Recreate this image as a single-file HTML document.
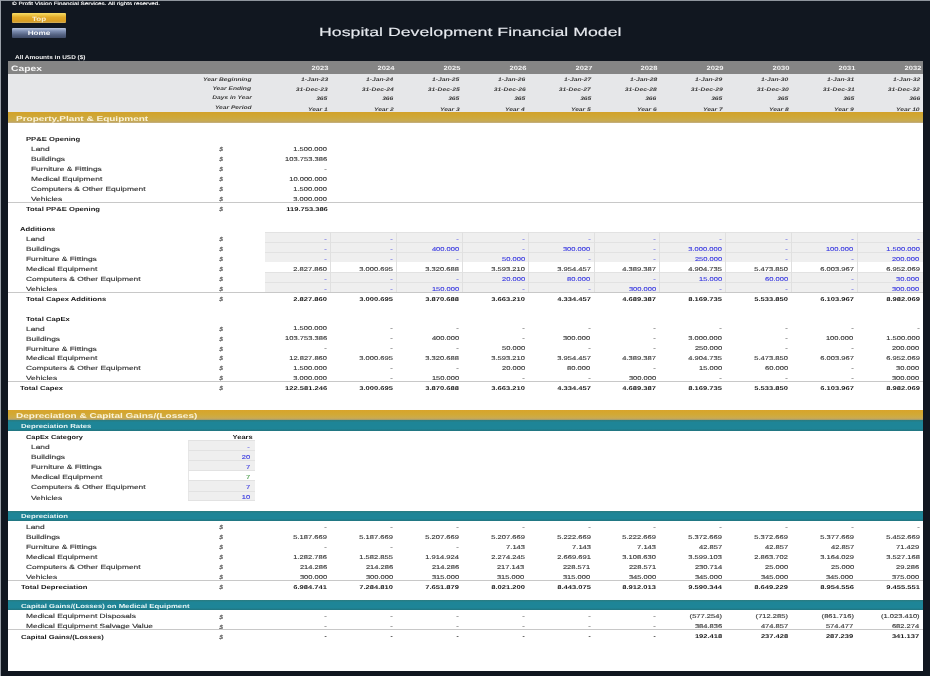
<!DOCTYPE html>
<html><head><meta charset="utf-8"><title>Hospital Development Financial Model</title>
<style>
html,body{margin:0;padding:0;}
body{width:930px;height:676px;overflow:hidden;position:relative;background:#111720;font-family:"Liberation Sans", sans-serif;text-rendering:geometricPrecision;}
div{position:absolute;}
.t{white-space:nowrap;will-change:transform;}
.t span{white-space:nowrap;}
</style></head><body>
<div style="position:absolute;left:0.00px;top:0.00px;width:930.00px;height:1.00px;background:#8f959d"></div>
<div style="position:absolute;left:0.00px;top:0.00px;width:1.20px;height:676.00px;background:#9aa0a8"></div>
<div class="t" style="left:11.50px;top:1px;height:5.17px;line-height:5.17px;font-size:4.5px;-webkit-text-stroke:0.12px currentColor;color:#ffffff;transform:scaleX(1.4000);transform-origin:left">© Profit Vision Financial Services. All rights reserved.</div>
<div style="position:absolute;left:11.60px;top:12.80px;width:54.20px;height:10.00px;background:linear-gradient(#f6dc68 0%,#ecc444 22%,#e2aa2a 42%,#d99e22 80%,#cf9f3c 92%,#dcc070 100%);border-radius:1px"></div>
<div class="t" style="left:39.00px;top:16px;height:7.24px;line-height:7.24px;font-size:6.3px;font-weight:bold;color:#f8ecc8;width:0"><span style="position:absolute;left:0;transform:translateX(-50%) scaleX(1.2800);transform-origin:center">Top</span></div>
<div style="position:absolute;left:11.60px;top:28.00px;width:54.20px;height:9.90px;background:linear-gradient(#b9c6e0 0%,#7f8fb2 30%,#52607f 70%,#3e4a66 100%);border-radius:1px"></div>
<div class="t" style="left:38.70px;top:30px;height:7.24px;line-height:7.24px;font-size:6.3px;font-weight:bold;color:#f2f4f8;width:0"><span style="position:absolute;left:0;transform:translateX(-50%) scaleX(1.3000);transform-origin:center">Home</span></div>
<div class="t" style="left:318.80px;top:26px;height:13.80px;line-height:13.80px;font-size:12.0px;-webkit-text-stroke:0.12px currentColor;color:#e6e9ee;transform:scaleX(1.4770);transform-origin:left">Hospital Development Financial Model</div>
<div class="t" style="left:15.30px;top:55px;height:6.32px;line-height:6.32px;font-size:5.5px;font-weight:bold;color:#f0f0f0;transform:scaleX(1.1750);transform-origin:left">All Amounts in  USD ($)</div>
<div style="position:absolute;left:8.10px;top:61.20px;width:915.40px;height:609.40px;background:#ffffff"></div>
<div style="position:absolute;left:8.10px;top:61.20px;width:915.40px;height:12.60px;background:#858585"></div>
<div class="t" style="left:10.80px;top:65px;height:8.97px;line-height:8.97px;font-size:7.8px;font-weight:bold;color:#f4f4f4;transform:scaleX(1.3200);transform-origin:left">Capex</div>
<div class="t" style="right:601.20px;top:66px;height:6.90px;line-height:6.90px;font-size:6.0px;font-weight:bold;color:#f0f0f0;transform:scaleX(1.2600);transform-origin:right">2023</div>
<div class="t" style="right:535.40px;top:66px;height:6.90px;line-height:6.90px;font-size:6.0px;font-weight:bold;color:#f0f0f0;transform:scaleX(1.2600);transform-origin:right">2024</div>
<div class="t" style="right:469.60px;top:66px;height:6.90px;line-height:6.90px;font-size:6.0px;font-weight:bold;color:#f0f0f0;transform:scaleX(1.2600);transform-origin:right">2025</div>
<div class="t" style="right:403.80px;top:66px;height:6.90px;line-height:6.90px;font-size:6.0px;font-weight:bold;color:#f0f0f0;transform:scaleX(1.2600);transform-origin:right">2026</div>
<div class="t" style="right:338.00px;top:66px;height:6.90px;line-height:6.90px;font-size:6.0px;font-weight:bold;color:#f0f0f0;transform:scaleX(1.2600);transform-origin:right">2027</div>
<div class="t" style="right:272.20px;top:66px;height:6.90px;line-height:6.90px;font-size:6.0px;font-weight:bold;color:#f0f0f0;transform:scaleX(1.2600);transform-origin:right">2028</div>
<div class="t" style="right:206.40px;top:66px;height:6.90px;line-height:6.90px;font-size:6.0px;font-weight:bold;color:#f0f0f0;transform:scaleX(1.2600);transform-origin:right">2029</div>
<div class="t" style="right:140.60px;top:66px;height:6.90px;line-height:6.90px;font-size:6.0px;font-weight:bold;color:#f0f0f0;transform:scaleX(1.2600);transform-origin:right">2030</div>
<div class="t" style="right:74.80px;top:66px;height:6.90px;line-height:6.90px;font-size:6.0px;font-weight:bold;color:#f0f0f0;transform:scaleX(1.2600);transform-origin:right">2031</div>
<div class="t" style="right:9.00px;top:66px;height:6.90px;line-height:6.90px;font-size:6.0px;font-weight:bold;color:#f0f0f0;transform:scaleX(1.2600);transform-origin:right">2032</div>
<div style="position:absolute;left:8.10px;top:73.80px;width:915.40px;height:38.00px;background:#e6e7e9"></div>
<div class="t" style="right:678.70px;top:78px;height:5.75px;line-height:5.75px;font-size:5.0px;font-weight:bold;font-style:italic;color:#3a3a3a;transform:scaleX(1.3300);transform-origin:right">Year Beginning</div>
<div class="t" style="right:678.70px;top:87px;height:5.75px;line-height:5.75px;font-size:5.0px;font-weight:bold;font-style:italic;color:#3a3a3a;transform:scaleX(1.3300);transform-origin:right">Year Ending</div>
<div class="t" style="right:678.70px;top:96px;height:5.75px;line-height:5.75px;font-size:5.0px;font-weight:bold;font-style:italic;color:#3a3a3a;transform:scaleX(1.3300);transform-origin:right">Days in Year</div>
<div class="t" style="right:678.70px;top:106px;height:5.75px;line-height:5.75px;font-size:5.0px;font-weight:bold;font-style:italic;color:#3a3a3a;transform:scaleX(1.3300);transform-origin:right">Year Period</div>
<div class="t" style="right:602.20px;top:78px;height:5.75px;line-height:5.75px;font-size:5.0px;font-weight:bold;font-style:italic;color:#3a3a3a;transform:scaleX(1.3440);transform-origin:right">1-Jan-23</div>
<div class="t" style="right:602.20px;top:88px;height:5.75px;line-height:5.75px;font-size:5.0px;font-weight:bold;font-style:italic;color:#3a3a3a;transform:scaleX(1.3440);transform-origin:right">31-Dec-23</div>
<div class="t" style="right:602.20px;top:97px;height:5.75px;line-height:5.75px;font-size:5.0px;font-weight:bold;font-style:italic;color:#3a3a3a;transform:scaleX(1.3440);transform-origin:right">365</div>
<div class="t" style="right:602.20px;top:108px;height:5.75px;line-height:5.75px;font-size:5.0px;font-weight:bold;font-style:italic;color:#3a3a3a;transform:scaleX(1.3440);transform-origin:right">Year 1</div>
<div class="t" style="right:536.40px;top:78px;height:5.75px;line-height:5.75px;font-size:5.0px;font-weight:bold;font-style:italic;color:#3a3a3a;transform:scaleX(1.3440);transform-origin:right">1-Jan-24</div>
<div class="t" style="right:536.40px;top:88px;height:5.75px;line-height:5.75px;font-size:5.0px;font-weight:bold;font-style:italic;color:#3a3a3a;transform:scaleX(1.3440);transform-origin:right">31-Dec-24</div>
<div class="t" style="right:536.40px;top:97px;height:5.75px;line-height:5.75px;font-size:5.0px;font-weight:bold;font-style:italic;color:#3a3a3a;transform:scaleX(1.3440);transform-origin:right">366</div>
<div class="t" style="right:536.40px;top:108px;height:5.75px;line-height:5.75px;font-size:5.0px;font-weight:bold;font-style:italic;color:#3a3a3a;transform:scaleX(1.3440);transform-origin:right">Year 2</div>
<div class="t" style="right:470.60px;top:78px;height:5.75px;line-height:5.75px;font-size:5.0px;font-weight:bold;font-style:italic;color:#3a3a3a;transform:scaleX(1.3440);transform-origin:right">1-Jan-25</div>
<div class="t" style="right:470.60px;top:88px;height:5.75px;line-height:5.75px;font-size:5.0px;font-weight:bold;font-style:italic;color:#3a3a3a;transform:scaleX(1.3440);transform-origin:right">31-Dec-25</div>
<div class="t" style="right:470.60px;top:97px;height:5.75px;line-height:5.75px;font-size:5.0px;font-weight:bold;font-style:italic;color:#3a3a3a;transform:scaleX(1.3440);transform-origin:right">365</div>
<div class="t" style="right:470.60px;top:108px;height:5.75px;line-height:5.75px;font-size:5.0px;font-weight:bold;font-style:italic;color:#3a3a3a;transform:scaleX(1.3440);transform-origin:right">Year 3</div>
<div class="t" style="right:404.80px;top:78px;height:5.75px;line-height:5.75px;font-size:5.0px;font-weight:bold;font-style:italic;color:#3a3a3a;transform:scaleX(1.3440);transform-origin:right">1-Jan-26</div>
<div class="t" style="right:404.80px;top:88px;height:5.75px;line-height:5.75px;font-size:5.0px;font-weight:bold;font-style:italic;color:#3a3a3a;transform:scaleX(1.3440);transform-origin:right">31-Dec-26</div>
<div class="t" style="right:404.80px;top:97px;height:5.75px;line-height:5.75px;font-size:5.0px;font-weight:bold;font-style:italic;color:#3a3a3a;transform:scaleX(1.3440);transform-origin:right">365</div>
<div class="t" style="right:404.80px;top:108px;height:5.75px;line-height:5.75px;font-size:5.0px;font-weight:bold;font-style:italic;color:#3a3a3a;transform:scaleX(1.3440);transform-origin:right">Year 4</div>
<div class="t" style="right:339.00px;top:78px;height:5.75px;line-height:5.75px;font-size:5.0px;font-weight:bold;font-style:italic;color:#3a3a3a;transform:scaleX(1.3440);transform-origin:right">1-Jan-27</div>
<div class="t" style="right:339.00px;top:88px;height:5.75px;line-height:5.75px;font-size:5.0px;font-weight:bold;font-style:italic;color:#3a3a3a;transform:scaleX(1.3440);transform-origin:right">31-Dec-27</div>
<div class="t" style="right:339.00px;top:97px;height:5.75px;line-height:5.75px;font-size:5.0px;font-weight:bold;font-style:italic;color:#3a3a3a;transform:scaleX(1.3440);transform-origin:right">365</div>
<div class="t" style="right:339.00px;top:108px;height:5.75px;line-height:5.75px;font-size:5.0px;font-weight:bold;font-style:italic;color:#3a3a3a;transform:scaleX(1.3440);transform-origin:right">Year 5</div>
<div class="t" style="right:273.20px;top:78px;height:5.75px;line-height:5.75px;font-size:5.0px;font-weight:bold;font-style:italic;color:#3a3a3a;transform:scaleX(1.3440);transform-origin:right">1-Jan-28</div>
<div class="t" style="right:273.20px;top:88px;height:5.75px;line-height:5.75px;font-size:5.0px;font-weight:bold;font-style:italic;color:#3a3a3a;transform:scaleX(1.3440);transform-origin:right">31-Dec-28</div>
<div class="t" style="right:273.20px;top:97px;height:5.75px;line-height:5.75px;font-size:5.0px;font-weight:bold;font-style:italic;color:#3a3a3a;transform:scaleX(1.3440);transform-origin:right">366</div>
<div class="t" style="right:273.20px;top:108px;height:5.75px;line-height:5.75px;font-size:5.0px;font-weight:bold;font-style:italic;color:#3a3a3a;transform:scaleX(1.3440);transform-origin:right">Year 6</div>
<div class="t" style="right:207.40px;top:78px;height:5.75px;line-height:5.75px;font-size:5.0px;font-weight:bold;font-style:italic;color:#3a3a3a;transform:scaleX(1.3440);transform-origin:right">1-Jan-29</div>
<div class="t" style="right:207.40px;top:88px;height:5.75px;line-height:5.75px;font-size:5.0px;font-weight:bold;font-style:italic;color:#3a3a3a;transform:scaleX(1.3440);transform-origin:right">31-Dec-29</div>
<div class="t" style="right:207.40px;top:97px;height:5.75px;line-height:5.75px;font-size:5.0px;font-weight:bold;font-style:italic;color:#3a3a3a;transform:scaleX(1.3440);transform-origin:right">365</div>
<div class="t" style="right:207.40px;top:108px;height:5.75px;line-height:5.75px;font-size:5.0px;font-weight:bold;font-style:italic;color:#3a3a3a;transform:scaleX(1.3440);transform-origin:right">Year 7</div>
<div class="t" style="right:141.60px;top:78px;height:5.75px;line-height:5.75px;font-size:5.0px;font-weight:bold;font-style:italic;color:#3a3a3a;transform:scaleX(1.3440);transform-origin:right">1-Jan-30</div>
<div class="t" style="right:141.60px;top:88px;height:5.75px;line-height:5.75px;font-size:5.0px;font-weight:bold;font-style:italic;color:#3a3a3a;transform:scaleX(1.3440);transform-origin:right">31-Dec-30</div>
<div class="t" style="right:141.60px;top:97px;height:5.75px;line-height:5.75px;font-size:5.0px;font-weight:bold;font-style:italic;color:#3a3a3a;transform:scaleX(1.3440);transform-origin:right">365</div>
<div class="t" style="right:141.60px;top:108px;height:5.75px;line-height:5.75px;font-size:5.0px;font-weight:bold;font-style:italic;color:#3a3a3a;transform:scaleX(1.3440);transform-origin:right">Year 8</div>
<div class="t" style="right:75.80px;top:78px;height:5.75px;line-height:5.75px;font-size:5.0px;font-weight:bold;font-style:italic;color:#3a3a3a;transform:scaleX(1.3440);transform-origin:right">1-Jan-31</div>
<div class="t" style="right:75.80px;top:88px;height:5.75px;line-height:5.75px;font-size:5.0px;font-weight:bold;font-style:italic;color:#3a3a3a;transform:scaleX(1.3440);transform-origin:right">31-Dec-31</div>
<div class="t" style="right:75.80px;top:97px;height:5.75px;line-height:5.75px;font-size:5.0px;font-weight:bold;font-style:italic;color:#3a3a3a;transform:scaleX(1.3440);transform-origin:right">365</div>
<div class="t" style="right:75.80px;top:108px;height:5.75px;line-height:5.75px;font-size:5.0px;font-weight:bold;font-style:italic;color:#3a3a3a;transform:scaleX(1.3440);transform-origin:right">Year 9</div>
<div class="t" style="right:10.00px;top:78px;height:5.75px;line-height:5.75px;font-size:5.0px;font-weight:bold;font-style:italic;color:#3a3a3a;transform:scaleX(1.3440);transform-origin:right">1-Jan-32</div>
<div class="t" style="right:10.00px;top:88px;height:5.75px;line-height:5.75px;font-size:5.0px;font-weight:bold;font-style:italic;color:#3a3a3a;transform:scaleX(1.3440);transform-origin:right">31-Dec-32</div>
<div class="t" style="right:10.00px;top:97px;height:5.75px;line-height:5.75px;font-size:5.0px;font-weight:bold;font-style:italic;color:#3a3a3a;transform:scaleX(1.3440);transform-origin:right">366</div>
<div class="t" style="right:10.00px;top:108px;height:5.75px;line-height:5.75px;font-size:5.0px;font-weight:bold;font-style:italic;color:#3a3a3a;transform:scaleX(1.3440);transform-origin:right">Year 10</div>
<div style="position:absolute;left:8.10px;top:111.80px;width:915.40px;height:10.90px;background:linear-gradient(#d3a22a 0%,#cea838 45%,#c9ab50 80%,#bca266 94%,#e0d6b0 100%)"></div>
<div class="t" style="left:16.00px;top:116px;height:8.05px;line-height:8.05px;font-size:7.0px;font-weight:bold;color:#fbf2d6;transform:scaleX(1.4300);transform-origin:left">Property,Plant &amp; Equipment</div>
<div class="t" style="left:25.80px;top:137px;height:6.79px;line-height:6.79px;font-size:5.9px;font-weight:bold;color:#1a1a1a;transform:scaleX(1.3030);transform-origin:left">PP&amp;E Opening</div>
<div class="t" style="left:31.00px;top:147px;height:6.90px;line-height:6.90px;font-size:6.0px;-webkit-text-stroke:0.12px currentColor;color:#303030;transform:scaleX(1.3960);transform-origin:left">Land</div>
<div class="t" style="left:220.50px;top:147px;height:6.44px;line-height:6.44px;font-size:5.6px;-webkit-text-stroke:0.12px currentColor;font-style:italic;color:#505050;width:0"><span style="position:absolute;left:0;transform:translateX(-50%) scaleX(1.2000);transform-origin:center">$</span></div>
<div class="t" style="right:602.70px;top:147px;height:6.44px;line-height:6.44px;font-size:5.6px;-webkit-text-stroke:0.12px currentColor;color:#383838;transform:scaleX(1.3500);transform-origin:right">1.500.000</div>
<div class="t" style="left:31.00px;top:157px;height:6.90px;line-height:6.90px;font-size:6.0px;-webkit-text-stroke:0.12px currentColor;color:#303030;transform:scaleX(1.3960);transform-origin:left">Buildings</div>
<div class="t" style="left:220.50px;top:157px;height:6.44px;line-height:6.44px;font-size:5.6px;-webkit-text-stroke:0.12px currentColor;font-style:italic;color:#505050;width:0"><span style="position:absolute;left:0;transform:translateX(-50%) scaleX(1.2000);transform-origin:center">$</span></div>
<div class="t" style="right:602.70px;top:157px;height:6.44px;line-height:6.44px;font-size:5.6px;-webkit-text-stroke:0.12px currentColor;color:#383838;transform:scaleX(1.3500);transform-origin:right">103.753.386</div>
<div class="t" style="left:31.00px;top:167px;height:6.90px;line-height:6.90px;font-size:6.0px;-webkit-text-stroke:0.12px currentColor;color:#303030;transform:scaleX(1.3960);transform-origin:left">Furniture &amp; Fittings</div>
<div class="t" style="left:220.50px;top:167px;height:6.44px;line-height:6.44px;font-size:5.6px;-webkit-text-stroke:0.12px currentColor;font-style:italic;color:#505050;width:0"><span style="position:absolute;left:0;transform:translateX(-50%) scaleX(1.2000);transform-origin:center">$</span></div>
<div class="t" style="right:602.70px;top:167px;height:6.44px;line-height:6.44px;font-size:5.6px;-webkit-text-stroke:0.12px currentColor;color:#383838;transform:scaleX(1.3500);transform-origin:right">-</div>
<div class="t" style="left:31.00px;top:177px;height:6.90px;line-height:6.90px;font-size:6.0px;-webkit-text-stroke:0.12px currentColor;color:#303030;transform:scaleX(1.3960);transform-origin:left">Medical Equipment</div>
<div class="t" style="left:220.50px;top:177px;height:6.44px;line-height:6.44px;font-size:5.6px;-webkit-text-stroke:0.12px currentColor;font-style:italic;color:#505050;width:0"><span style="position:absolute;left:0;transform:translateX(-50%) scaleX(1.2000);transform-origin:center">$</span></div>
<div class="t" style="right:602.70px;top:177px;height:6.44px;line-height:6.44px;font-size:5.6px;-webkit-text-stroke:0.12px currentColor;color:#383838;transform:scaleX(1.3500);transform-origin:right">10.000.000</div>
<div class="t" style="left:31.00px;top:187px;height:6.90px;line-height:6.90px;font-size:6.0px;-webkit-text-stroke:0.12px currentColor;color:#303030;transform:scaleX(1.3960);transform-origin:left">Computers &amp; Other Equipment</div>
<div class="t" style="left:220.50px;top:187px;height:6.44px;line-height:6.44px;font-size:5.6px;-webkit-text-stroke:0.12px currentColor;font-style:italic;color:#505050;width:0"><span style="position:absolute;left:0;transform:translateX(-50%) scaleX(1.2000);transform-origin:center">$</span></div>
<div class="t" style="right:602.70px;top:187px;height:6.44px;line-height:6.44px;font-size:5.6px;-webkit-text-stroke:0.12px currentColor;color:#383838;transform:scaleX(1.3500);transform-origin:right">1.500.000</div>
<div class="t" style="left:31.00px;top:197px;height:6.90px;line-height:6.90px;font-size:6.0px;-webkit-text-stroke:0.12px currentColor;color:#303030;transform:scaleX(1.3960);transform-origin:left">Vehicles</div>
<div class="t" style="left:220.50px;top:197px;height:6.44px;line-height:6.44px;font-size:5.6px;-webkit-text-stroke:0.12px currentColor;font-style:italic;color:#505050;width:0"><span style="position:absolute;left:0;transform:translateX(-50%) scaleX(1.2000);transform-origin:center">$</span></div>
<div class="t" style="right:602.70px;top:197px;height:6.44px;line-height:6.44px;font-size:5.6px;-webkit-text-stroke:0.12px currentColor;color:#383838;transform:scaleX(1.3500);transform-origin:right">3.000.000</div>
<div style="position:absolute;left:8.10px;top:202.00px;width:915.40px;height:1.00px;background:#c8c8c8"></div>
<div class="t" style="left:25.80px;top:207px;height:6.79px;line-height:6.79px;font-size:5.9px;font-weight:bold;color:#1a1a1a;transform:scaleX(1.3030);transform-origin:left">Total PP&amp;E Opening</div>
<div class="t" style="left:220.50px;top:207px;height:6.44px;line-height:6.44px;font-size:5.6px;-webkit-text-stroke:0.12px currentColor;font-style:italic;color:#505050;width:0"><span style="position:absolute;left:0;transform:translateX(-50%) scaleX(1.2000);transform-origin:center">$</span></div>
<div class="t" style="right:602.70px;top:207px;height:6.44px;line-height:6.44px;font-size:5.6px;font-weight:bold;color:#1a1a1a;transform:scaleX(1.3500);transform-origin:right">119.753.386</div>
<div style="position:absolute;left:265.00px;top:232.38px;width:658.00px;height:9.96px;background:#efefef;box-sizing:border-box;border-top:1px solid #e2e2e2"></div>
<div style="position:absolute;left:265.00px;top:242.34px;width:658.00px;height:9.96px;background:#efefef;box-sizing:border-box;border-top:1px solid #e2e2e2"></div>
<div style="position:absolute;left:265.00px;top:252.30px;width:658.00px;height:9.96px;background:#efefef;box-sizing:border-box;border-top:1px solid #e2e2e2"></div>
<div style="position:absolute;left:265.00px;top:272.22px;width:658.00px;height:9.96px;background:#efefef;box-sizing:border-box;border-top:1px solid #e2e2e2"></div>
<div style="position:absolute;left:265.00px;top:282.18px;width:658.00px;height:9.96px;background:#efefef;box-sizing:border-box;border-top:1px solid #e2e2e2"></div>
<div style="position:absolute;left:265.00px;top:291.64px;width:658.00px;height:1.00px;background:#e2e2e2"></div>
<div style="position:absolute;left:330.30px;top:232.38px;width:1.00px;height:59.76px;background:#e0e0e0"></div>
<div style="position:absolute;left:396.10px;top:232.38px;width:1.00px;height:59.76px;background:#e0e0e0"></div>
<div style="position:absolute;left:461.90px;top:232.38px;width:1.00px;height:59.76px;background:#e0e0e0"></div>
<div style="position:absolute;left:527.70px;top:232.38px;width:1.00px;height:59.76px;background:#e0e0e0"></div>
<div style="position:absolute;left:593.50px;top:232.38px;width:1.00px;height:59.76px;background:#e0e0e0"></div>
<div style="position:absolute;left:659.30px;top:232.38px;width:1.00px;height:59.76px;background:#e0e0e0"></div>
<div style="position:absolute;left:725.10px;top:232.38px;width:1.00px;height:59.76px;background:#e0e0e0"></div>
<div style="position:absolute;left:790.90px;top:232.38px;width:1.00px;height:59.76px;background:#e0e0e0"></div>
<div style="position:absolute;left:856.70px;top:232.38px;width:1.00px;height:59.76px;background:#e0e0e0"></div>
<div class="t" style="left:20.30px;top:227px;height:6.79px;line-height:6.79px;font-size:5.9px;font-weight:bold;color:#1a1a1a;transform:scaleX(1.3030);transform-origin:left">Additions</div>
<div class="t" style="left:25.80px;top:237px;height:6.90px;line-height:6.90px;font-size:6.0px;-webkit-text-stroke:0.12px currentColor;color:#303030;transform:scaleX(1.3960);transform-origin:left">Land</div>
<div class="t" style="left:220.50px;top:237px;height:6.44px;line-height:6.44px;font-size:5.6px;-webkit-text-stroke:0.12px currentColor;font-style:italic;color:#505050;width:0"><span style="position:absolute;left:0;transform:translateX(-50%) scaleX(1.2000);transform-origin:center">$</span></div>
<div class="t" style="right:602.70px;top:237px;height:6.44px;line-height:6.44px;font-size:5.6px;-webkit-text-stroke:0.12px currentColor;color:#3c3ce0;transform:scaleX(1.3500);transform-origin:right">-</div>
<div class="t" style="right:536.90px;top:237px;height:6.44px;line-height:6.44px;font-size:5.6px;-webkit-text-stroke:0.12px currentColor;color:#3c3ce0;transform:scaleX(1.3500);transform-origin:right">-</div>
<div class="t" style="right:471.10px;top:237px;height:6.44px;line-height:6.44px;font-size:5.6px;-webkit-text-stroke:0.12px currentColor;color:#3c3ce0;transform:scaleX(1.3500);transform-origin:right">-</div>
<div class="t" style="right:405.30px;top:237px;height:6.44px;line-height:6.44px;font-size:5.6px;-webkit-text-stroke:0.12px currentColor;color:#3c3ce0;transform:scaleX(1.3500);transform-origin:right">-</div>
<div class="t" style="right:339.50px;top:237px;height:6.44px;line-height:6.44px;font-size:5.6px;-webkit-text-stroke:0.12px currentColor;color:#3c3ce0;transform:scaleX(1.3500);transform-origin:right">-</div>
<div class="t" style="right:273.70px;top:237px;height:6.44px;line-height:6.44px;font-size:5.6px;-webkit-text-stroke:0.12px currentColor;color:#3c3ce0;transform:scaleX(1.3500);transform-origin:right">-</div>
<div class="t" style="right:207.90px;top:237px;height:6.44px;line-height:6.44px;font-size:5.6px;-webkit-text-stroke:0.12px currentColor;color:#3c3ce0;transform:scaleX(1.3500);transform-origin:right">-</div>
<div class="t" style="right:142.10px;top:237px;height:6.44px;line-height:6.44px;font-size:5.6px;-webkit-text-stroke:0.12px currentColor;color:#3c3ce0;transform:scaleX(1.3500);transform-origin:right">-</div>
<div class="t" style="right:76.30px;top:237px;height:6.44px;line-height:6.44px;font-size:5.6px;-webkit-text-stroke:0.12px currentColor;color:#3c3ce0;transform:scaleX(1.3500);transform-origin:right">-</div>
<div class="t" style="right:10.50px;top:237px;height:6.44px;line-height:6.44px;font-size:5.6px;-webkit-text-stroke:0.12px currentColor;color:#3c3ce0;transform:scaleX(1.3500);transform-origin:right">-</div>
<div class="t" style="left:25.80px;top:247px;height:6.90px;line-height:6.90px;font-size:6.0px;-webkit-text-stroke:0.12px currentColor;color:#303030;transform:scaleX(1.3960);transform-origin:left">Buildings</div>
<div class="t" style="left:220.50px;top:247px;height:6.44px;line-height:6.44px;font-size:5.6px;-webkit-text-stroke:0.12px currentColor;font-style:italic;color:#505050;width:0"><span style="position:absolute;left:0;transform:translateX(-50%) scaleX(1.2000);transform-origin:center">$</span></div>
<div class="t" style="right:602.70px;top:247px;height:6.44px;line-height:6.44px;font-size:5.6px;-webkit-text-stroke:0.12px currentColor;color:#3c3ce0;transform:scaleX(1.3500);transform-origin:right">-</div>
<div class="t" style="right:536.90px;top:247px;height:6.44px;line-height:6.44px;font-size:5.6px;-webkit-text-stroke:0.12px currentColor;color:#3c3ce0;transform:scaleX(1.3500);transform-origin:right">-</div>
<div class="t" style="right:471.10px;top:247px;height:6.44px;line-height:6.44px;font-size:5.6px;-webkit-text-stroke:0.12px currentColor;color:#3c3ce0;transform:scaleX(1.3500);transform-origin:right">400.000</div>
<div class="t" style="right:405.30px;top:247px;height:6.44px;line-height:6.44px;font-size:5.6px;-webkit-text-stroke:0.12px currentColor;color:#3c3ce0;transform:scaleX(1.3500);transform-origin:right">-</div>
<div class="t" style="right:339.50px;top:247px;height:6.44px;line-height:6.44px;font-size:5.6px;-webkit-text-stroke:0.12px currentColor;color:#3c3ce0;transform:scaleX(1.3500);transform-origin:right">300.000</div>
<div class="t" style="right:273.70px;top:247px;height:6.44px;line-height:6.44px;font-size:5.6px;-webkit-text-stroke:0.12px currentColor;color:#3c3ce0;transform:scaleX(1.3500);transform-origin:right">-</div>
<div class="t" style="right:207.90px;top:247px;height:6.44px;line-height:6.44px;font-size:5.6px;-webkit-text-stroke:0.12px currentColor;color:#3c3ce0;transform:scaleX(1.3500);transform-origin:right">3.000.000</div>
<div class="t" style="right:142.10px;top:247px;height:6.44px;line-height:6.44px;font-size:5.6px;-webkit-text-stroke:0.12px currentColor;color:#3c3ce0;transform:scaleX(1.3500);transform-origin:right">-</div>
<div class="t" style="right:76.30px;top:247px;height:6.44px;line-height:6.44px;font-size:5.6px;-webkit-text-stroke:0.12px currentColor;color:#3c3ce0;transform:scaleX(1.3500);transform-origin:right">100.000</div>
<div class="t" style="right:10.50px;top:247px;height:6.44px;line-height:6.44px;font-size:5.6px;-webkit-text-stroke:0.12px currentColor;color:#3c3ce0;transform:scaleX(1.3500);transform-origin:right">1.500.000</div>
<div class="t" style="left:25.80px;top:257px;height:6.90px;line-height:6.90px;font-size:6.0px;-webkit-text-stroke:0.12px currentColor;color:#303030;transform:scaleX(1.3960);transform-origin:left">Furniture &amp; Fittings</div>
<div class="t" style="left:220.50px;top:257px;height:6.44px;line-height:6.44px;font-size:5.6px;-webkit-text-stroke:0.12px currentColor;font-style:italic;color:#505050;width:0"><span style="position:absolute;left:0;transform:translateX(-50%) scaleX(1.2000);transform-origin:center">$</span></div>
<div class="t" style="right:602.70px;top:257px;height:6.44px;line-height:6.44px;font-size:5.6px;-webkit-text-stroke:0.12px currentColor;color:#3c3ce0;transform:scaleX(1.3500);transform-origin:right">-</div>
<div class="t" style="right:536.90px;top:257px;height:6.44px;line-height:6.44px;font-size:5.6px;-webkit-text-stroke:0.12px currentColor;color:#3c3ce0;transform:scaleX(1.3500);transform-origin:right">-</div>
<div class="t" style="right:471.10px;top:257px;height:6.44px;line-height:6.44px;font-size:5.6px;-webkit-text-stroke:0.12px currentColor;color:#3c3ce0;transform:scaleX(1.3500);transform-origin:right">-</div>
<div class="t" style="right:405.30px;top:257px;height:6.44px;line-height:6.44px;font-size:5.6px;-webkit-text-stroke:0.12px currentColor;color:#3c3ce0;transform:scaleX(1.3500);transform-origin:right">50.000</div>
<div class="t" style="right:339.50px;top:257px;height:6.44px;line-height:6.44px;font-size:5.6px;-webkit-text-stroke:0.12px currentColor;color:#3c3ce0;transform:scaleX(1.3500);transform-origin:right">-</div>
<div class="t" style="right:273.70px;top:257px;height:6.44px;line-height:6.44px;font-size:5.6px;-webkit-text-stroke:0.12px currentColor;color:#3c3ce0;transform:scaleX(1.3500);transform-origin:right">-</div>
<div class="t" style="right:207.90px;top:257px;height:6.44px;line-height:6.44px;font-size:5.6px;-webkit-text-stroke:0.12px currentColor;color:#3c3ce0;transform:scaleX(1.3500);transform-origin:right">250.000</div>
<div class="t" style="right:142.10px;top:257px;height:6.44px;line-height:6.44px;font-size:5.6px;-webkit-text-stroke:0.12px currentColor;color:#3c3ce0;transform:scaleX(1.3500);transform-origin:right">-</div>
<div class="t" style="right:76.30px;top:257px;height:6.44px;line-height:6.44px;font-size:5.6px;-webkit-text-stroke:0.12px currentColor;color:#3c3ce0;transform:scaleX(1.3500);transform-origin:right">-</div>
<div class="t" style="right:10.50px;top:257px;height:6.44px;line-height:6.44px;font-size:5.6px;-webkit-text-stroke:0.12px currentColor;color:#3c3ce0;transform:scaleX(1.3500);transform-origin:right">200.000</div>
<div class="t" style="left:25.80px;top:267px;height:6.90px;line-height:6.90px;font-size:6.0px;-webkit-text-stroke:0.12px currentColor;color:#303030;transform:scaleX(1.3960);transform-origin:left">Medical Equipment</div>
<div class="t" style="left:220.50px;top:267px;height:6.44px;line-height:6.44px;font-size:5.6px;-webkit-text-stroke:0.12px currentColor;font-style:italic;color:#505050;width:0"><span style="position:absolute;left:0;transform:translateX(-50%) scaleX(1.2000);transform-origin:center">$</span></div>
<div class="t" style="right:602.70px;top:267px;height:6.44px;line-height:6.44px;font-size:5.6px;-webkit-text-stroke:0.12px currentColor;color:#383838;transform:scaleX(1.3500);transform-origin:right">2.827.860</div>
<div class="t" style="right:536.90px;top:267px;height:6.44px;line-height:6.44px;font-size:5.6px;-webkit-text-stroke:0.12px currentColor;color:#383838;transform:scaleX(1.3500);transform-origin:right">3.000.695</div>
<div class="t" style="right:471.10px;top:267px;height:6.44px;line-height:6.44px;font-size:5.6px;-webkit-text-stroke:0.12px currentColor;color:#383838;transform:scaleX(1.3500);transform-origin:right">3.320.688</div>
<div class="t" style="right:405.30px;top:267px;height:6.44px;line-height:6.44px;font-size:5.6px;-webkit-text-stroke:0.12px currentColor;color:#383838;transform:scaleX(1.3500);transform-origin:right">3.593.210</div>
<div class="t" style="right:339.50px;top:267px;height:6.44px;line-height:6.44px;font-size:5.6px;-webkit-text-stroke:0.12px currentColor;color:#383838;transform:scaleX(1.3500);transform-origin:right">3.954.457</div>
<div class="t" style="right:273.70px;top:267px;height:6.44px;line-height:6.44px;font-size:5.6px;-webkit-text-stroke:0.12px currentColor;color:#383838;transform:scaleX(1.3500);transform-origin:right">4.389.387</div>
<div class="t" style="right:207.90px;top:267px;height:6.44px;line-height:6.44px;font-size:5.6px;-webkit-text-stroke:0.12px currentColor;color:#383838;transform:scaleX(1.3500);transform-origin:right">4.904.735</div>
<div class="t" style="right:142.10px;top:267px;height:6.44px;line-height:6.44px;font-size:5.6px;-webkit-text-stroke:0.12px currentColor;color:#383838;transform:scaleX(1.3500);transform-origin:right">5.473.850</div>
<div class="t" style="right:76.30px;top:267px;height:6.44px;line-height:6.44px;font-size:5.6px;-webkit-text-stroke:0.12px currentColor;color:#383838;transform:scaleX(1.3500);transform-origin:right">6.003.967</div>
<div class="t" style="right:10.50px;top:267px;height:6.44px;line-height:6.44px;font-size:5.6px;-webkit-text-stroke:0.12px currentColor;color:#383838;transform:scaleX(1.3500);transform-origin:right">6.952.069</div>
<div class="t" style="left:25.80px;top:277px;height:6.90px;line-height:6.90px;font-size:6.0px;-webkit-text-stroke:0.12px currentColor;color:#303030;transform:scaleX(1.3960);transform-origin:left">Computers &amp; Other Equipment</div>
<div class="t" style="left:220.50px;top:277px;height:6.44px;line-height:6.44px;font-size:5.6px;-webkit-text-stroke:0.12px currentColor;font-style:italic;color:#505050;width:0"><span style="position:absolute;left:0;transform:translateX(-50%) scaleX(1.2000);transform-origin:center">$</span></div>
<div class="t" style="right:602.70px;top:277px;height:6.44px;line-height:6.44px;font-size:5.6px;-webkit-text-stroke:0.12px currentColor;color:#3c3ce0;transform:scaleX(1.3500);transform-origin:right">-</div>
<div class="t" style="right:536.90px;top:277px;height:6.44px;line-height:6.44px;font-size:5.6px;-webkit-text-stroke:0.12px currentColor;color:#3c3ce0;transform:scaleX(1.3500);transform-origin:right">-</div>
<div class="t" style="right:471.10px;top:277px;height:6.44px;line-height:6.44px;font-size:5.6px;-webkit-text-stroke:0.12px currentColor;color:#3c3ce0;transform:scaleX(1.3500);transform-origin:right">-</div>
<div class="t" style="right:405.30px;top:277px;height:6.44px;line-height:6.44px;font-size:5.6px;-webkit-text-stroke:0.12px currentColor;color:#3c3ce0;transform:scaleX(1.3500);transform-origin:right">20.000</div>
<div class="t" style="right:339.50px;top:277px;height:6.44px;line-height:6.44px;font-size:5.6px;-webkit-text-stroke:0.12px currentColor;color:#3c3ce0;transform:scaleX(1.3500);transform-origin:right">80.000</div>
<div class="t" style="right:273.70px;top:277px;height:6.44px;line-height:6.44px;font-size:5.6px;-webkit-text-stroke:0.12px currentColor;color:#3c3ce0;transform:scaleX(1.3500);transform-origin:right">-</div>
<div class="t" style="right:207.90px;top:277px;height:6.44px;line-height:6.44px;font-size:5.6px;-webkit-text-stroke:0.12px currentColor;color:#3c3ce0;transform:scaleX(1.3500);transform-origin:right">15.000</div>
<div class="t" style="right:142.10px;top:277px;height:6.44px;line-height:6.44px;font-size:5.6px;-webkit-text-stroke:0.12px currentColor;color:#3c3ce0;transform:scaleX(1.3500);transform-origin:right">60.000</div>
<div class="t" style="right:76.30px;top:277px;height:6.44px;line-height:6.44px;font-size:5.6px;-webkit-text-stroke:0.12px currentColor;color:#3c3ce0;transform:scaleX(1.3500);transform-origin:right">-</div>
<div class="t" style="right:10.50px;top:277px;height:6.44px;line-height:6.44px;font-size:5.6px;-webkit-text-stroke:0.12px currentColor;color:#3c3ce0;transform:scaleX(1.3500);transform-origin:right">30.000</div>
<div class="t" style="left:25.80px;top:287px;height:6.90px;line-height:6.90px;font-size:6.0px;-webkit-text-stroke:0.12px currentColor;color:#303030;transform:scaleX(1.3960);transform-origin:left">Vehicles</div>
<div class="t" style="left:220.50px;top:287px;height:6.44px;line-height:6.44px;font-size:5.6px;-webkit-text-stroke:0.12px currentColor;font-style:italic;color:#505050;width:0"><span style="position:absolute;left:0;transform:translateX(-50%) scaleX(1.2000);transform-origin:center">$</span></div>
<div class="t" style="right:602.70px;top:287px;height:6.44px;line-height:6.44px;font-size:5.6px;-webkit-text-stroke:0.12px currentColor;color:#3c3ce0;transform:scaleX(1.3500);transform-origin:right">-</div>
<div class="t" style="right:536.90px;top:287px;height:6.44px;line-height:6.44px;font-size:5.6px;-webkit-text-stroke:0.12px currentColor;color:#3c3ce0;transform:scaleX(1.3500);transform-origin:right">-</div>
<div class="t" style="right:471.10px;top:287px;height:6.44px;line-height:6.44px;font-size:5.6px;-webkit-text-stroke:0.12px currentColor;color:#3c3ce0;transform:scaleX(1.3500);transform-origin:right">150.000</div>
<div class="t" style="right:405.30px;top:287px;height:6.44px;line-height:6.44px;font-size:5.6px;-webkit-text-stroke:0.12px currentColor;color:#3c3ce0;transform:scaleX(1.3500);transform-origin:right">-</div>
<div class="t" style="right:339.50px;top:287px;height:6.44px;line-height:6.44px;font-size:5.6px;-webkit-text-stroke:0.12px currentColor;color:#3c3ce0;transform:scaleX(1.3500);transform-origin:right">-</div>
<div class="t" style="right:273.70px;top:287px;height:6.44px;line-height:6.44px;font-size:5.6px;-webkit-text-stroke:0.12px currentColor;color:#3c3ce0;transform:scaleX(1.3500);transform-origin:right">300.000</div>
<div class="t" style="right:207.90px;top:287px;height:6.44px;line-height:6.44px;font-size:5.6px;-webkit-text-stroke:0.12px currentColor;color:#3c3ce0;transform:scaleX(1.3500);transform-origin:right">-</div>
<div class="t" style="right:142.10px;top:287px;height:6.44px;line-height:6.44px;font-size:5.6px;-webkit-text-stroke:0.12px currentColor;color:#3c3ce0;transform:scaleX(1.3500);transform-origin:right">-</div>
<div class="t" style="right:76.30px;top:287px;height:6.44px;line-height:6.44px;font-size:5.6px;-webkit-text-stroke:0.12px currentColor;color:#3c3ce0;transform:scaleX(1.3500);transform-origin:right">-</div>
<div class="t" style="right:10.50px;top:287px;height:6.44px;line-height:6.44px;font-size:5.6px;-webkit-text-stroke:0.12px currentColor;color:#3c3ce0;transform:scaleX(1.3500);transform-origin:right">300.000</div>
<div style="position:absolute;left:8.10px;top:291.64px;width:915.40px;height:1.00px;background:#c8c8c8"></div>
<div class="t" style="left:25.80px;top:297px;height:6.79px;line-height:6.79px;font-size:5.9px;font-weight:bold;color:#1a1a1a;transform:scaleX(1.3030);transform-origin:left">Total Capex Additions</div>
<div class="t" style="left:220.50px;top:297px;height:6.44px;line-height:6.44px;font-size:5.6px;-webkit-text-stroke:0.12px currentColor;font-style:italic;color:#505050;width:0"><span style="position:absolute;left:0;transform:translateX(-50%) scaleX(1.2000);transform-origin:center">$</span></div>
<div class="t" style="right:602.70px;top:297px;height:6.44px;line-height:6.44px;font-size:5.6px;font-weight:bold;color:#1a1a1a;transform:scaleX(1.3500);transform-origin:right">2.827.860</div>
<div class="t" style="right:536.90px;top:297px;height:6.44px;line-height:6.44px;font-size:5.6px;font-weight:bold;color:#1a1a1a;transform:scaleX(1.3500);transform-origin:right">3.000.695</div>
<div class="t" style="right:471.10px;top:297px;height:6.44px;line-height:6.44px;font-size:5.6px;font-weight:bold;color:#1a1a1a;transform:scaleX(1.3500);transform-origin:right">3.870.688</div>
<div class="t" style="right:405.30px;top:297px;height:6.44px;line-height:6.44px;font-size:5.6px;font-weight:bold;color:#1a1a1a;transform:scaleX(1.3500);transform-origin:right">3.663.210</div>
<div class="t" style="right:339.50px;top:297px;height:6.44px;line-height:6.44px;font-size:5.6px;font-weight:bold;color:#1a1a1a;transform:scaleX(1.3500);transform-origin:right">4.334.457</div>
<div class="t" style="right:273.70px;top:297px;height:6.44px;line-height:6.44px;font-size:5.6px;font-weight:bold;color:#1a1a1a;transform:scaleX(1.3500);transform-origin:right">4.689.387</div>
<div class="t" style="right:207.90px;top:297px;height:6.44px;line-height:6.44px;font-size:5.6px;font-weight:bold;color:#1a1a1a;transform:scaleX(1.3500);transform-origin:right">8.169.735</div>
<div class="t" style="right:142.10px;top:297px;height:6.44px;line-height:6.44px;font-size:5.6px;font-weight:bold;color:#1a1a1a;transform:scaleX(1.3500);transform-origin:right">5.533.850</div>
<div class="t" style="right:76.30px;top:297px;height:6.44px;line-height:6.44px;font-size:5.6px;font-weight:bold;color:#1a1a1a;transform:scaleX(1.3500);transform-origin:right">6.103.967</div>
<div class="t" style="right:10.50px;top:297px;height:6.44px;line-height:6.44px;font-size:5.6px;font-weight:bold;color:#1a1a1a;transform:scaleX(1.3500);transform-origin:right">8.982.069</div>
<div class="t" style="left:25.90px;top:317px;height:6.79px;line-height:6.79px;font-size:5.9px;font-weight:bold;color:#1a1a1a;transform:scaleX(1.3030);transform-origin:left">Total CapEx</div>
<div class="t" style="left:25.80px;top:327px;height:6.90px;line-height:6.90px;font-size:6.0px;-webkit-text-stroke:0.12px currentColor;color:#303030;transform:scaleX(1.3960);transform-origin:left">Land</div>
<div class="t" style="left:220.50px;top:327px;height:6.44px;line-height:6.44px;font-size:5.6px;-webkit-text-stroke:0.12px currentColor;font-style:italic;color:#505050;width:0"><span style="position:absolute;left:0;transform:translateX(-50%) scaleX(1.2000);transform-origin:center">$</span></div>
<div class="t" style="right:602.70px;top:326px;height:6.44px;line-height:6.44px;font-size:5.6px;-webkit-text-stroke:0.12px currentColor;color:#383838;transform:scaleX(1.3500);transform-origin:right">1.500.000</div>
<div class="t" style="right:536.90px;top:326px;height:6.44px;line-height:6.44px;font-size:5.6px;-webkit-text-stroke:0.12px currentColor;color:#383838;transform:scaleX(1.3500);transform-origin:right">-</div>
<div class="t" style="right:471.10px;top:326px;height:6.44px;line-height:6.44px;font-size:5.6px;-webkit-text-stroke:0.12px currentColor;color:#383838;transform:scaleX(1.3500);transform-origin:right">-</div>
<div class="t" style="right:405.30px;top:326px;height:6.44px;line-height:6.44px;font-size:5.6px;-webkit-text-stroke:0.12px currentColor;color:#383838;transform:scaleX(1.3500);transform-origin:right">-</div>
<div class="t" style="right:339.50px;top:326px;height:6.44px;line-height:6.44px;font-size:5.6px;-webkit-text-stroke:0.12px currentColor;color:#383838;transform:scaleX(1.3500);transform-origin:right">-</div>
<div class="t" style="right:273.70px;top:326px;height:6.44px;line-height:6.44px;font-size:5.6px;-webkit-text-stroke:0.12px currentColor;color:#383838;transform:scaleX(1.3500);transform-origin:right">-</div>
<div class="t" style="right:207.90px;top:326px;height:6.44px;line-height:6.44px;font-size:5.6px;-webkit-text-stroke:0.12px currentColor;color:#383838;transform:scaleX(1.3500);transform-origin:right">-</div>
<div class="t" style="right:142.10px;top:326px;height:6.44px;line-height:6.44px;font-size:5.6px;-webkit-text-stroke:0.12px currentColor;color:#383838;transform:scaleX(1.3500);transform-origin:right">-</div>
<div class="t" style="right:76.30px;top:326px;height:6.44px;line-height:6.44px;font-size:5.6px;-webkit-text-stroke:0.12px currentColor;color:#383838;transform:scaleX(1.3500);transform-origin:right">-</div>
<div class="t" style="right:10.50px;top:326px;height:6.44px;line-height:6.44px;font-size:5.6px;-webkit-text-stroke:0.12px currentColor;color:#383838;transform:scaleX(1.3500);transform-origin:right">-</div>
<div class="t" style="left:25.80px;top:337px;height:6.90px;line-height:6.90px;font-size:6.0px;-webkit-text-stroke:0.12px currentColor;color:#303030;transform:scaleX(1.3960);transform-origin:left">Buildings</div>
<div class="t" style="left:220.50px;top:337px;height:6.44px;line-height:6.44px;font-size:5.6px;-webkit-text-stroke:0.12px currentColor;font-style:italic;color:#505050;width:0"><span style="position:absolute;left:0;transform:translateX(-50%) scaleX(1.2000);transform-origin:center">$</span></div>
<div class="t" style="right:602.70px;top:336px;height:6.44px;line-height:6.44px;font-size:5.6px;-webkit-text-stroke:0.12px currentColor;color:#383838;transform:scaleX(1.3500);transform-origin:right">103.753.386</div>
<div class="t" style="right:536.90px;top:336px;height:6.44px;line-height:6.44px;font-size:5.6px;-webkit-text-stroke:0.12px currentColor;color:#383838;transform:scaleX(1.3500);transform-origin:right">-</div>
<div class="t" style="right:471.10px;top:336px;height:6.44px;line-height:6.44px;font-size:5.6px;-webkit-text-stroke:0.12px currentColor;color:#383838;transform:scaleX(1.3500);transform-origin:right">400.000</div>
<div class="t" style="right:405.30px;top:336px;height:6.44px;line-height:6.44px;font-size:5.6px;-webkit-text-stroke:0.12px currentColor;color:#383838;transform:scaleX(1.3500);transform-origin:right">-</div>
<div class="t" style="right:339.50px;top:336px;height:6.44px;line-height:6.44px;font-size:5.6px;-webkit-text-stroke:0.12px currentColor;color:#383838;transform:scaleX(1.3500);transform-origin:right">300.000</div>
<div class="t" style="right:273.70px;top:336px;height:6.44px;line-height:6.44px;font-size:5.6px;-webkit-text-stroke:0.12px currentColor;color:#383838;transform:scaleX(1.3500);transform-origin:right">-</div>
<div class="t" style="right:207.90px;top:336px;height:6.44px;line-height:6.44px;font-size:5.6px;-webkit-text-stroke:0.12px currentColor;color:#383838;transform:scaleX(1.3500);transform-origin:right">3.000.000</div>
<div class="t" style="right:142.10px;top:336px;height:6.44px;line-height:6.44px;font-size:5.6px;-webkit-text-stroke:0.12px currentColor;color:#383838;transform:scaleX(1.3500);transform-origin:right">-</div>
<div class="t" style="right:76.30px;top:336px;height:6.44px;line-height:6.44px;font-size:5.6px;-webkit-text-stroke:0.12px currentColor;color:#383838;transform:scaleX(1.3500);transform-origin:right">100.000</div>
<div class="t" style="right:10.50px;top:336px;height:6.44px;line-height:6.44px;font-size:5.6px;-webkit-text-stroke:0.12px currentColor;color:#383838;transform:scaleX(1.3500);transform-origin:right">1.500.000</div>
<div class="t" style="left:25.80px;top:347px;height:6.90px;line-height:6.90px;font-size:6.0px;-webkit-text-stroke:0.12px currentColor;color:#303030;transform:scaleX(1.3960);transform-origin:left">Furniture &amp; Fittings</div>
<div class="t" style="left:220.50px;top:347px;height:6.44px;line-height:6.44px;font-size:5.6px;-webkit-text-stroke:0.12px currentColor;font-style:italic;color:#505050;width:0"><span style="position:absolute;left:0;transform:translateX(-50%) scaleX(1.2000);transform-origin:center">$</span></div>
<div class="t" style="right:602.70px;top:346px;height:6.44px;line-height:6.44px;font-size:5.6px;-webkit-text-stroke:0.12px currentColor;color:#383838;transform:scaleX(1.3500);transform-origin:right">-</div>
<div class="t" style="right:536.90px;top:346px;height:6.44px;line-height:6.44px;font-size:5.6px;-webkit-text-stroke:0.12px currentColor;color:#383838;transform:scaleX(1.3500);transform-origin:right">-</div>
<div class="t" style="right:471.10px;top:346px;height:6.44px;line-height:6.44px;font-size:5.6px;-webkit-text-stroke:0.12px currentColor;color:#383838;transform:scaleX(1.3500);transform-origin:right">-</div>
<div class="t" style="right:405.30px;top:346px;height:6.44px;line-height:6.44px;font-size:5.6px;-webkit-text-stroke:0.12px currentColor;color:#383838;transform:scaleX(1.3500);transform-origin:right">50.000</div>
<div class="t" style="right:339.50px;top:346px;height:6.44px;line-height:6.44px;font-size:5.6px;-webkit-text-stroke:0.12px currentColor;color:#383838;transform:scaleX(1.3500);transform-origin:right">-</div>
<div class="t" style="right:273.70px;top:346px;height:6.44px;line-height:6.44px;font-size:5.6px;-webkit-text-stroke:0.12px currentColor;color:#383838;transform:scaleX(1.3500);transform-origin:right">-</div>
<div class="t" style="right:207.90px;top:346px;height:6.44px;line-height:6.44px;font-size:5.6px;-webkit-text-stroke:0.12px currentColor;color:#383838;transform:scaleX(1.3500);transform-origin:right">250.000</div>
<div class="t" style="right:142.10px;top:346px;height:6.44px;line-height:6.44px;font-size:5.6px;-webkit-text-stroke:0.12px currentColor;color:#383838;transform:scaleX(1.3500);transform-origin:right">-</div>
<div class="t" style="right:76.30px;top:346px;height:6.44px;line-height:6.44px;font-size:5.6px;-webkit-text-stroke:0.12px currentColor;color:#383838;transform:scaleX(1.3500);transform-origin:right">-</div>
<div class="t" style="right:10.50px;top:346px;height:6.44px;line-height:6.44px;font-size:5.6px;-webkit-text-stroke:0.12px currentColor;color:#383838;transform:scaleX(1.3500);transform-origin:right">200.000</div>
<div class="t" style="left:25.80px;top:356px;height:6.90px;line-height:6.90px;font-size:6.0px;-webkit-text-stroke:0.12px currentColor;color:#303030;transform:scaleX(1.3960);transform-origin:left">Medical Equipment</div>
<div class="t" style="left:220.50px;top:356px;height:6.44px;line-height:6.44px;font-size:5.6px;-webkit-text-stroke:0.12px currentColor;font-style:italic;color:#505050;width:0"><span style="position:absolute;left:0;transform:translateX(-50%) scaleX(1.2000);transform-origin:center">$</span></div>
<div class="t" style="right:602.70px;top:356px;height:6.44px;line-height:6.44px;font-size:5.6px;-webkit-text-stroke:0.12px currentColor;color:#383838;transform:scaleX(1.3500);transform-origin:right">12.827.860</div>
<div class="t" style="right:536.90px;top:356px;height:6.44px;line-height:6.44px;font-size:5.6px;-webkit-text-stroke:0.12px currentColor;color:#383838;transform:scaleX(1.3500);transform-origin:right">3.000.695</div>
<div class="t" style="right:471.10px;top:356px;height:6.44px;line-height:6.44px;font-size:5.6px;-webkit-text-stroke:0.12px currentColor;color:#383838;transform:scaleX(1.3500);transform-origin:right">3.320.688</div>
<div class="t" style="right:405.30px;top:356px;height:6.44px;line-height:6.44px;font-size:5.6px;-webkit-text-stroke:0.12px currentColor;color:#383838;transform:scaleX(1.3500);transform-origin:right">3.593.210</div>
<div class="t" style="right:339.50px;top:356px;height:6.44px;line-height:6.44px;font-size:5.6px;-webkit-text-stroke:0.12px currentColor;color:#383838;transform:scaleX(1.3500);transform-origin:right">3.954.457</div>
<div class="t" style="right:273.70px;top:356px;height:6.44px;line-height:6.44px;font-size:5.6px;-webkit-text-stroke:0.12px currentColor;color:#383838;transform:scaleX(1.3500);transform-origin:right">4.389.387</div>
<div class="t" style="right:207.90px;top:356px;height:6.44px;line-height:6.44px;font-size:5.6px;-webkit-text-stroke:0.12px currentColor;color:#383838;transform:scaleX(1.3500);transform-origin:right">4.904.735</div>
<div class="t" style="right:142.10px;top:356px;height:6.44px;line-height:6.44px;font-size:5.6px;-webkit-text-stroke:0.12px currentColor;color:#383838;transform:scaleX(1.3500);transform-origin:right">5.473.850</div>
<div class="t" style="right:76.30px;top:356px;height:6.44px;line-height:6.44px;font-size:5.6px;-webkit-text-stroke:0.12px currentColor;color:#383838;transform:scaleX(1.3500);transform-origin:right">6.003.967</div>
<div class="t" style="right:10.50px;top:356px;height:6.44px;line-height:6.44px;font-size:5.6px;-webkit-text-stroke:0.12px currentColor;color:#383838;transform:scaleX(1.3500);transform-origin:right">6.952.069</div>
<div class="t" style="left:25.80px;top:366px;height:6.90px;line-height:6.90px;font-size:6.0px;-webkit-text-stroke:0.12px currentColor;color:#303030;transform:scaleX(1.3960);transform-origin:left">Computers &amp; Other Equipment</div>
<div class="t" style="left:220.50px;top:366px;height:6.44px;line-height:6.44px;font-size:5.6px;-webkit-text-stroke:0.12px currentColor;font-style:italic;color:#505050;width:0"><span style="position:absolute;left:0;transform:translateX(-50%) scaleX(1.2000);transform-origin:center">$</span></div>
<div class="t" style="right:602.70px;top:366px;height:6.44px;line-height:6.44px;font-size:5.6px;-webkit-text-stroke:0.12px currentColor;color:#383838;transform:scaleX(1.3500);transform-origin:right">1.500.000</div>
<div class="t" style="right:536.90px;top:366px;height:6.44px;line-height:6.44px;font-size:5.6px;-webkit-text-stroke:0.12px currentColor;color:#383838;transform:scaleX(1.3500);transform-origin:right">-</div>
<div class="t" style="right:471.10px;top:366px;height:6.44px;line-height:6.44px;font-size:5.6px;-webkit-text-stroke:0.12px currentColor;color:#383838;transform:scaleX(1.3500);transform-origin:right">-</div>
<div class="t" style="right:405.30px;top:366px;height:6.44px;line-height:6.44px;font-size:5.6px;-webkit-text-stroke:0.12px currentColor;color:#383838;transform:scaleX(1.3500);transform-origin:right">20.000</div>
<div class="t" style="right:339.50px;top:366px;height:6.44px;line-height:6.44px;font-size:5.6px;-webkit-text-stroke:0.12px currentColor;color:#383838;transform:scaleX(1.3500);transform-origin:right">80.000</div>
<div class="t" style="right:273.70px;top:366px;height:6.44px;line-height:6.44px;font-size:5.6px;-webkit-text-stroke:0.12px currentColor;color:#383838;transform:scaleX(1.3500);transform-origin:right">-</div>
<div class="t" style="right:207.90px;top:366px;height:6.44px;line-height:6.44px;font-size:5.6px;-webkit-text-stroke:0.12px currentColor;color:#383838;transform:scaleX(1.3500);transform-origin:right">15.000</div>
<div class="t" style="right:142.10px;top:366px;height:6.44px;line-height:6.44px;font-size:5.6px;-webkit-text-stroke:0.12px currentColor;color:#383838;transform:scaleX(1.3500);transform-origin:right">60.000</div>
<div class="t" style="right:76.30px;top:366px;height:6.44px;line-height:6.44px;font-size:5.6px;-webkit-text-stroke:0.12px currentColor;color:#383838;transform:scaleX(1.3500);transform-origin:right">-</div>
<div class="t" style="right:10.50px;top:366px;height:6.44px;line-height:6.44px;font-size:5.6px;-webkit-text-stroke:0.12px currentColor;color:#383838;transform:scaleX(1.3500);transform-origin:right">30.000</div>
<div class="t" style="left:25.80px;top:376px;height:6.90px;line-height:6.90px;font-size:6.0px;-webkit-text-stroke:0.12px currentColor;color:#303030;transform:scaleX(1.3960);transform-origin:left">Vehicles</div>
<div class="t" style="left:220.50px;top:376px;height:6.44px;line-height:6.44px;font-size:5.6px;-webkit-text-stroke:0.12px currentColor;font-style:italic;color:#505050;width:0"><span style="position:absolute;left:0;transform:translateX(-50%) scaleX(1.2000);transform-origin:center">$</span></div>
<div class="t" style="right:602.70px;top:376px;height:6.44px;line-height:6.44px;font-size:5.6px;-webkit-text-stroke:0.12px currentColor;color:#383838;transform:scaleX(1.3500);transform-origin:right">3.000.000</div>
<div class="t" style="right:536.90px;top:376px;height:6.44px;line-height:6.44px;font-size:5.6px;-webkit-text-stroke:0.12px currentColor;color:#383838;transform:scaleX(1.3500);transform-origin:right">-</div>
<div class="t" style="right:471.10px;top:376px;height:6.44px;line-height:6.44px;font-size:5.6px;-webkit-text-stroke:0.12px currentColor;color:#383838;transform:scaleX(1.3500);transform-origin:right">150.000</div>
<div class="t" style="right:405.30px;top:376px;height:6.44px;line-height:6.44px;font-size:5.6px;-webkit-text-stroke:0.12px currentColor;color:#383838;transform:scaleX(1.3500);transform-origin:right">-</div>
<div class="t" style="right:339.50px;top:376px;height:6.44px;line-height:6.44px;font-size:5.6px;-webkit-text-stroke:0.12px currentColor;color:#383838;transform:scaleX(1.3500);transform-origin:right">-</div>
<div class="t" style="right:273.70px;top:376px;height:6.44px;line-height:6.44px;font-size:5.6px;-webkit-text-stroke:0.12px currentColor;color:#383838;transform:scaleX(1.3500);transform-origin:right">300.000</div>
<div class="t" style="right:207.90px;top:376px;height:6.44px;line-height:6.44px;font-size:5.6px;-webkit-text-stroke:0.12px currentColor;color:#383838;transform:scaleX(1.3500);transform-origin:right">-</div>
<div class="t" style="right:142.10px;top:376px;height:6.44px;line-height:6.44px;font-size:5.6px;-webkit-text-stroke:0.12px currentColor;color:#383838;transform:scaleX(1.3500);transform-origin:right">-</div>
<div class="t" style="right:76.30px;top:376px;height:6.44px;line-height:6.44px;font-size:5.6px;-webkit-text-stroke:0.12px currentColor;color:#383838;transform:scaleX(1.3500);transform-origin:right">-</div>
<div class="t" style="right:10.50px;top:376px;height:6.44px;line-height:6.44px;font-size:5.6px;-webkit-text-stroke:0.12px currentColor;color:#383838;transform:scaleX(1.3500);transform-origin:right">300.000</div>
<div style="position:absolute;left:8.10px;top:381.28px;width:915.40px;height:1.00px;background:#c8c8c8"></div>
<div class="t" style="left:20.30px;top:386px;height:6.79px;line-height:6.79px;font-size:5.9px;font-weight:bold;color:#1a1a1a;transform:scaleX(1.3030);transform-origin:left">Total Capex</div>
<div class="t" style="left:220.50px;top:386px;height:6.44px;line-height:6.44px;font-size:5.6px;-webkit-text-stroke:0.12px currentColor;font-style:italic;color:#505050;width:0"><span style="position:absolute;left:0;transform:translateX(-50%) scaleX(1.2000);transform-origin:center">$</span></div>
<div class="t" style="right:602.70px;top:386px;height:6.44px;line-height:6.44px;font-size:5.6px;font-weight:bold;color:#1a1a1a;transform:scaleX(1.3500);transform-origin:right">122.581.246</div>
<div class="t" style="right:536.90px;top:386px;height:6.44px;line-height:6.44px;font-size:5.6px;font-weight:bold;color:#1a1a1a;transform:scaleX(1.3500);transform-origin:right">3.000.695</div>
<div class="t" style="right:471.10px;top:386px;height:6.44px;line-height:6.44px;font-size:5.6px;font-weight:bold;color:#1a1a1a;transform:scaleX(1.3500);transform-origin:right">3.870.688</div>
<div class="t" style="right:405.30px;top:386px;height:6.44px;line-height:6.44px;font-size:5.6px;font-weight:bold;color:#1a1a1a;transform:scaleX(1.3500);transform-origin:right">3.663.210</div>
<div class="t" style="right:339.50px;top:386px;height:6.44px;line-height:6.44px;font-size:5.6px;font-weight:bold;color:#1a1a1a;transform:scaleX(1.3500);transform-origin:right">4.334.457</div>
<div class="t" style="right:273.70px;top:386px;height:6.44px;line-height:6.44px;font-size:5.6px;font-weight:bold;color:#1a1a1a;transform:scaleX(1.3500);transform-origin:right">4.689.387</div>
<div class="t" style="right:207.90px;top:386px;height:6.44px;line-height:6.44px;font-size:5.6px;font-weight:bold;color:#1a1a1a;transform:scaleX(1.3500);transform-origin:right">8.169.735</div>
<div class="t" style="right:142.10px;top:386px;height:6.44px;line-height:6.44px;font-size:5.6px;font-weight:bold;color:#1a1a1a;transform:scaleX(1.3500);transform-origin:right">5.533.850</div>
<div class="t" style="right:76.30px;top:386px;height:6.44px;line-height:6.44px;font-size:5.6px;font-weight:bold;color:#1a1a1a;transform:scaleX(1.3500);transform-origin:right">6.103.967</div>
<div class="t" style="right:10.50px;top:386px;height:6.44px;line-height:6.44px;font-size:5.6px;font-weight:bold;color:#1a1a1a;transform:scaleX(1.3500);transform-origin:right">8.982.069</div>
<div style="position:absolute;left:8.10px;top:410.00px;width:915.40px;height:10.20px;background:linear-gradient(#d8a42a 0%,#d2a936 45%,#cbab4c 78%,#c0a462 90%,#8e9a72 100%)"></div>
<div class="t" style="left:16.00px;top:413px;height:8.05px;line-height:8.05px;font-size:7.0px;font-weight:bold;color:#fbf2d6;transform:scaleX(1.4300);transform-origin:left">Depreciation &amp; Capital Gains/(Losses)</div>
<div style="position:absolute;left:8.10px;top:420.20px;width:915.40px;height:10.50px;background:linear-gradient(#2a7a7e 0%,#1e8597 22%,#1e8597 78%,#22747e 100%)"></div>
<div class="t" style="left:20.50px;top:424px;height:6.79px;line-height:6.79px;font-size:5.9px;font-weight:bold;color:#e6f4f4;transform:scaleX(1.3200);transform-origin:left">Depreciation Rates</div>
<div class="t" style="left:25.90px;top:435px;height:6.79px;line-height:6.79px;font-size:5.9px;font-weight:bold;color:#1a1a1a;transform:scaleX(1.2493);transform-origin:left">CapEx Category</div>
<div class="t" style="right:677.60px;top:435px;height:6.79px;line-height:6.79px;font-size:5.9px;font-weight:bold;color:#1a1a1a;transform:scaleX(1.2814);transform-origin:right">Years</div>
<div style="position:absolute;left:188.30px;top:440.20px;width:66.30px;height:10.07px;background:#efefef;box-sizing:border-box;border-top:1px solid #e2e2e2;border-left:1px solid #e6e6e6"></div>
<div class="t" style="left:31.00px;top:445px;height:6.90px;line-height:6.90px;font-size:6.0px;-webkit-text-stroke:0.12px currentColor;color:#303030;transform:scaleX(1.3960);transform-origin:left">Land</div>
<div class="t" style="right:679.70px;top:445px;height:6.44px;line-height:6.44px;font-size:5.6px;-webkit-text-stroke:0.12px currentColor;color:#3c3ce0;transform:scaleX(1.3500);transform-origin:right">-</div>
<div style="position:absolute;left:188.30px;top:450.27px;width:66.30px;height:10.07px;background:#efefef;box-sizing:border-box;border-top:1px solid #e2e2e2;border-left:1px solid #e6e6e6"></div>
<div class="t" style="left:31.00px;top:455px;height:6.90px;line-height:6.90px;font-size:6.0px;-webkit-text-stroke:0.12px currentColor;color:#303030;transform:scaleX(1.3960);transform-origin:left">Buildings</div>
<div class="t" style="right:679.70px;top:455px;height:6.44px;line-height:6.44px;font-size:5.6px;-webkit-text-stroke:0.12px currentColor;color:#3c3ce0;transform:scaleX(1.3500);transform-origin:right">20</div>
<div style="position:absolute;left:188.30px;top:460.34px;width:66.30px;height:10.07px;background:#efefef;box-sizing:border-box;border-top:1px solid #e2e2e2;border-left:1px solid #e6e6e6"></div>
<div class="t" style="left:31.00px;top:465px;height:6.90px;line-height:6.90px;font-size:6.0px;-webkit-text-stroke:0.12px currentColor;color:#303030;transform:scaleX(1.3960);transform-origin:left">Furniture &amp; Fittings</div>
<div class="t" style="right:679.70px;top:465px;height:6.44px;line-height:6.44px;font-size:5.6px;-webkit-text-stroke:0.12px currentColor;color:#3c3ce0;transform:scaleX(1.3500);transform-origin:right">7</div>
<div style="position:absolute;left:188.30px;top:470.41px;width:66.30px;height:10.07px;background:#ffffff;box-sizing:border-box;border-top:1px solid #e2e2e2;border-left:1px solid #e6e6e6"></div>
<div class="t" style="left:31.00px;top:475px;height:6.90px;line-height:6.90px;font-size:6.0px;-webkit-text-stroke:0.12px currentColor;color:#303030;transform:scaleX(1.3960);transform-origin:left">Medical Equipment</div>
<div class="t" style="right:679.70px;top:475px;height:6.44px;line-height:6.44px;font-size:5.6px;-webkit-text-stroke:0.12px currentColor;color:#4a9a4a;transform:scaleX(1.3500);transform-origin:right">7</div>
<div style="position:absolute;left:188.30px;top:480.48px;width:66.30px;height:10.07px;background:#efefef;box-sizing:border-box;border-top:1px solid #e2e2e2;border-left:1px solid #e6e6e6"></div>
<div class="t" style="left:31.00px;top:485px;height:6.90px;line-height:6.90px;font-size:6.0px;-webkit-text-stroke:0.12px currentColor;color:#303030;transform:scaleX(1.3960);transform-origin:left">Computers &amp; Other Equipment</div>
<div class="t" style="right:679.70px;top:485px;height:6.44px;line-height:6.44px;font-size:5.6px;-webkit-text-stroke:0.12px currentColor;color:#3c3ce0;transform:scaleX(1.3500);transform-origin:right">7</div>
<div style="position:absolute;left:188.30px;top:490.55px;width:66.30px;height:10.07px;background:#efefef;box-sizing:border-box;border-top:1px solid #e2e2e2;border-left:1px solid #e6e6e6"></div>
<div class="t" style="left:31.00px;top:496px;height:6.90px;line-height:6.90px;font-size:6.0px;-webkit-text-stroke:0.12px currentColor;color:#303030;transform:scaleX(1.3960);transform-origin:left">Vehicles</div>
<div class="t" style="right:679.70px;top:495px;height:6.44px;line-height:6.44px;font-size:5.6px;-webkit-text-stroke:0.12px currentColor;color:#3c3ce0;transform:scaleX(1.3500);transform-origin:right">10</div>
<div style="position:absolute;left:188.30px;top:500.12px;width:66.30px;height:1.00px;background:#e2e2e2"></div>
<div style="position:absolute;left:8.10px;top:510.50px;width:915.40px;height:10.00px;background:linear-gradient(#2a7a7e 0%,#1e8597 22%,#1e8597 78%,#22747e 100%)"></div>
<div class="t" style="left:20.50px;top:514px;height:6.79px;line-height:6.79px;font-size:5.9px;font-weight:bold;color:#e6f4f4;transform:scaleX(1.3200);transform-origin:left">Depreciation</div>
<div class="t" style="left:26.20px;top:525px;height:6.90px;line-height:6.90px;font-size:6.0px;-webkit-text-stroke:0.12px currentColor;color:#303030;transform:scaleX(1.3960);transform-origin:left">Land</div>
<div class="t" style="left:220.50px;top:525px;height:6.44px;line-height:6.44px;font-size:5.6px;-webkit-text-stroke:0.12px currentColor;font-style:italic;color:#505050;width:0"><span style="position:absolute;left:0;transform:translateX(-50%) scaleX(1.2000);transform-origin:center">$</span></div>
<div class="t" style="right:602.70px;top:525px;height:6.44px;line-height:6.44px;font-size:5.6px;-webkit-text-stroke:0.12px currentColor;color:#383838;transform:scaleX(1.3500);transform-origin:right">-</div>
<div class="t" style="right:536.90px;top:525px;height:6.44px;line-height:6.44px;font-size:5.6px;-webkit-text-stroke:0.12px currentColor;color:#383838;transform:scaleX(1.3500);transform-origin:right">-</div>
<div class="t" style="right:471.10px;top:525px;height:6.44px;line-height:6.44px;font-size:5.6px;-webkit-text-stroke:0.12px currentColor;color:#383838;transform:scaleX(1.3500);transform-origin:right">-</div>
<div class="t" style="right:405.30px;top:525px;height:6.44px;line-height:6.44px;font-size:5.6px;-webkit-text-stroke:0.12px currentColor;color:#383838;transform:scaleX(1.3500);transform-origin:right">-</div>
<div class="t" style="right:339.50px;top:525px;height:6.44px;line-height:6.44px;font-size:5.6px;-webkit-text-stroke:0.12px currentColor;color:#383838;transform:scaleX(1.3500);transform-origin:right">-</div>
<div class="t" style="right:273.70px;top:525px;height:6.44px;line-height:6.44px;font-size:5.6px;-webkit-text-stroke:0.12px currentColor;color:#383838;transform:scaleX(1.3500);transform-origin:right">-</div>
<div class="t" style="right:207.90px;top:525px;height:6.44px;line-height:6.44px;font-size:5.6px;-webkit-text-stroke:0.12px currentColor;color:#383838;transform:scaleX(1.3500);transform-origin:right">-</div>
<div class="t" style="right:142.10px;top:525px;height:6.44px;line-height:6.44px;font-size:5.6px;-webkit-text-stroke:0.12px currentColor;color:#383838;transform:scaleX(1.3500);transform-origin:right">-</div>
<div class="t" style="right:76.30px;top:525px;height:6.44px;line-height:6.44px;font-size:5.6px;-webkit-text-stroke:0.12px currentColor;color:#383838;transform:scaleX(1.3500);transform-origin:right">-</div>
<div class="t" style="right:10.50px;top:525px;height:6.44px;line-height:6.44px;font-size:5.6px;-webkit-text-stroke:0.12px currentColor;color:#383838;transform:scaleX(1.3500);transform-origin:right">-</div>
<div class="t" style="left:26.20px;top:535px;height:6.90px;line-height:6.90px;font-size:6.0px;-webkit-text-stroke:0.12px currentColor;color:#303030;transform:scaleX(1.3960);transform-origin:left">Buildings</div>
<div class="t" style="left:220.50px;top:535px;height:6.44px;line-height:6.44px;font-size:5.6px;-webkit-text-stroke:0.12px currentColor;font-style:italic;color:#505050;width:0"><span style="position:absolute;left:0;transform:translateX(-50%) scaleX(1.2000);transform-origin:center">$</span></div>
<div class="t" style="right:602.70px;top:535px;height:6.44px;line-height:6.44px;font-size:5.6px;-webkit-text-stroke:0.12px currentColor;color:#383838;transform:scaleX(1.3500);transform-origin:right">5.187.669</div>
<div class="t" style="right:536.90px;top:535px;height:6.44px;line-height:6.44px;font-size:5.6px;-webkit-text-stroke:0.12px currentColor;color:#383838;transform:scaleX(1.3500);transform-origin:right">5.187.669</div>
<div class="t" style="right:471.10px;top:535px;height:6.44px;line-height:6.44px;font-size:5.6px;-webkit-text-stroke:0.12px currentColor;color:#383838;transform:scaleX(1.3500);transform-origin:right">5.207.669</div>
<div class="t" style="right:405.30px;top:535px;height:6.44px;line-height:6.44px;font-size:5.6px;-webkit-text-stroke:0.12px currentColor;color:#383838;transform:scaleX(1.3500);transform-origin:right">5.207.669</div>
<div class="t" style="right:339.50px;top:535px;height:6.44px;line-height:6.44px;font-size:5.6px;-webkit-text-stroke:0.12px currentColor;color:#383838;transform:scaleX(1.3500);transform-origin:right">5.222.669</div>
<div class="t" style="right:273.70px;top:535px;height:6.44px;line-height:6.44px;font-size:5.6px;-webkit-text-stroke:0.12px currentColor;color:#383838;transform:scaleX(1.3500);transform-origin:right">5.222.669</div>
<div class="t" style="right:207.90px;top:535px;height:6.44px;line-height:6.44px;font-size:5.6px;-webkit-text-stroke:0.12px currentColor;color:#383838;transform:scaleX(1.3500);transform-origin:right">5.372.669</div>
<div class="t" style="right:142.10px;top:535px;height:6.44px;line-height:6.44px;font-size:5.6px;-webkit-text-stroke:0.12px currentColor;color:#383838;transform:scaleX(1.3500);transform-origin:right">5.372.669</div>
<div class="t" style="right:76.30px;top:535px;height:6.44px;line-height:6.44px;font-size:5.6px;-webkit-text-stroke:0.12px currentColor;color:#383838;transform:scaleX(1.3500);transform-origin:right">5.377.669</div>
<div class="t" style="right:10.50px;top:535px;height:6.44px;line-height:6.44px;font-size:5.6px;-webkit-text-stroke:0.12px currentColor;color:#383838;transform:scaleX(1.3500);transform-origin:right">5.452.669</div>
<div class="t" style="left:26.20px;top:545px;height:6.90px;line-height:6.90px;font-size:6.0px;-webkit-text-stroke:0.12px currentColor;color:#303030;transform:scaleX(1.3960);transform-origin:left">Furniture &amp; Fittings</div>
<div class="t" style="left:220.50px;top:545px;height:6.44px;line-height:6.44px;font-size:5.6px;-webkit-text-stroke:0.12px currentColor;font-style:italic;color:#505050;width:0"><span style="position:absolute;left:0;transform:translateX(-50%) scaleX(1.2000);transform-origin:center">$</span></div>
<div class="t" style="right:602.70px;top:545px;height:6.44px;line-height:6.44px;font-size:5.6px;-webkit-text-stroke:0.12px currentColor;color:#383838;transform:scaleX(1.3500);transform-origin:right">-</div>
<div class="t" style="right:536.90px;top:545px;height:6.44px;line-height:6.44px;font-size:5.6px;-webkit-text-stroke:0.12px currentColor;color:#383838;transform:scaleX(1.3500);transform-origin:right">-</div>
<div class="t" style="right:471.10px;top:545px;height:6.44px;line-height:6.44px;font-size:5.6px;-webkit-text-stroke:0.12px currentColor;color:#383838;transform:scaleX(1.3500);transform-origin:right">-</div>
<div class="t" style="right:405.30px;top:545px;height:6.44px;line-height:6.44px;font-size:5.6px;-webkit-text-stroke:0.12px currentColor;color:#383838;transform:scaleX(1.3500);transform-origin:right">7.143</div>
<div class="t" style="right:339.50px;top:545px;height:6.44px;line-height:6.44px;font-size:5.6px;-webkit-text-stroke:0.12px currentColor;color:#383838;transform:scaleX(1.3500);transform-origin:right">7.143</div>
<div class="t" style="right:273.70px;top:545px;height:6.44px;line-height:6.44px;font-size:5.6px;-webkit-text-stroke:0.12px currentColor;color:#383838;transform:scaleX(1.3500);transform-origin:right">7.143</div>
<div class="t" style="right:207.90px;top:545px;height:6.44px;line-height:6.44px;font-size:5.6px;-webkit-text-stroke:0.12px currentColor;color:#383838;transform:scaleX(1.3500);transform-origin:right">42.857</div>
<div class="t" style="right:142.10px;top:545px;height:6.44px;line-height:6.44px;font-size:5.6px;-webkit-text-stroke:0.12px currentColor;color:#383838;transform:scaleX(1.3500);transform-origin:right">42.857</div>
<div class="t" style="right:76.30px;top:545px;height:6.44px;line-height:6.44px;font-size:5.6px;-webkit-text-stroke:0.12px currentColor;color:#383838;transform:scaleX(1.3500);transform-origin:right">42.857</div>
<div class="t" style="right:10.50px;top:545px;height:6.44px;line-height:6.44px;font-size:5.6px;-webkit-text-stroke:0.12px currentColor;color:#383838;transform:scaleX(1.3500);transform-origin:right">71.429</div>
<div class="t" style="left:26.20px;top:555px;height:6.90px;line-height:6.90px;font-size:6.0px;-webkit-text-stroke:0.12px currentColor;color:#303030;transform:scaleX(1.3960);transform-origin:left">Medical Equipment</div>
<div class="t" style="left:220.50px;top:555px;height:6.44px;line-height:6.44px;font-size:5.6px;-webkit-text-stroke:0.12px currentColor;font-style:italic;color:#505050;width:0"><span style="position:absolute;left:0;transform:translateX(-50%) scaleX(1.2000);transform-origin:center">$</span></div>
<div class="t" style="right:602.70px;top:555px;height:6.44px;line-height:6.44px;font-size:5.6px;-webkit-text-stroke:0.12px currentColor;color:#383838;transform:scaleX(1.3500);transform-origin:right">1.282.786</div>
<div class="t" style="right:536.90px;top:555px;height:6.44px;line-height:6.44px;font-size:5.6px;-webkit-text-stroke:0.12px currentColor;color:#383838;transform:scaleX(1.3500);transform-origin:right">1.582.855</div>
<div class="t" style="right:471.10px;top:555px;height:6.44px;line-height:6.44px;font-size:5.6px;-webkit-text-stroke:0.12px currentColor;color:#383838;transform:scaleX(1.3500);transform-origin:right">1.914.924</div>
<div class="t" style="right:405.30px;top:555px;height:6.44px;line-height:6.44px;font-size:5.6px;-webkit-text-stroke:0.12px currentColor;color:#383838;transform:scaleX(1.3500);transform-origin:right">2.274.245</div>
<div class="t" style="right:339.50px;top:555px;height:6.44px;line-height:6.44px;font-size:5.6px;-webkit-text-stroke:0.12px currentColor;color:#383838;transform:scaleX(1.3500);transform-origin:right">2.669.691</div>
<div class="t" style="right:273.70px;top:555px;height:6.44px;line-height:6.44px;font-size:5.6px;-webkit-text-stroke:0.12px currentColor;color:#383838;transform:scaleX(1.3500);transform-origin:right">3.108.630</div>
<div class="t" style="right:207.90px;top:555px;height:6.44px;line-height:6.44px;font-size:5.6px;-webkit-text-stroke:0.12px currentColor;color:#383838;transform:scaleX(1.3500);transform-origin:right">3.599.103</div>
<div class="t" style="right:142.10px;top:555px;height:6.44px;line-height:6.44px;font-size:5.6px;-webkit-text-stroke:0.12px currentColor;color:#383838;transform:scaleX(1.3500);transform-origin:right">2.863.702</div>
<div class="t" style="right:76.30px;top:555px;height:6.44px;line-height:6.44px;font-size:5.6px;-webkit-text-stroke:0.12px currentColor;color:#383838;transform:scaleX(1.3500);transform-origin:right">3.164.029</div>
<div class="t" style="right:10.50px;top:555px;height:6.44px;line-height:6.44px;font-size:5.6px;-webkit-text-stroke:0.12px currentColor;color:#383838;transform:scaleX(1.3500);transform-origin:right">3.527.168</div>
<div class="t" style="left:26.20px;top:565px;height:6.90px;line-height:6.90px;font-size:6.0px;-webkit-text-stroke:0.12px currentColor;color:#303030;transform:scaleX(1.3960);transform-origin:left">Computers &amp; Other Equipment</div>
<div class="t" style="left:220.50px;top:565px;height:6.44px;line-height:6.44px;font-size:5.6px;-webkit-text-stroke:0.12px currentColor;font-style:italic;color:#505050;width:0"><span style="position:absolute;left:0;transform:translateX(-50%) scaleX(1.2000);transform-origin:center">$</span></div>
<div class="t" style="right:602.70px;top:565px;height:6.44px;line-height:6.44px;font-size:5.6px;-webkit-text-stroke:0.12px currentColor;color:#383838;transform:scaleX(1.3500);transform-origin:right">214.286</div>
<div class="t" style="right:536.90px;top:565px;height:6.44px;line-height:6.44px;font-size:5.6px;-webkit-text-stroke:0.12px currentColor;color:#383838;transform:scaleX(1.3500);transform-origin:right">214.286</div>
<div class="t" style="right:471.10px;top:565px;height:6.44px;line-height:6.44px;font-size:5.6px;-webkit-text-stroke:0.12px currentColor;color:#383838;transform:scaleX(1.3500);transform-origin:right">214.286</div>
<div class="t" style="right:405.30px;top:565px;height:6.44px;line-height:6.44px;font-size:5.6px;-webkit-text-stroke:0.12px currentColor;color:#383838;transform:scaleX(1.3500);transform-origin:right">217.143</div>
<div class="t" style="right:339.50px;top:565px;height:6.44px;line-height:6.44px;font-size:5.6px;-webkit-text-stroke:0.12px currentColor;color:#383838;transform:scaleX(1.3500);transform-origin:right">228.571</div>
<div class="t" style="right:273.70px;top:565px;height:6.44px;line-height:6.44px;font-size:5.6px;-webkit-text-stroke:0.12px currentColor;color:#383838;transform:scaleX(1.3500);transform-origin:right">228.571</div>
<div class="t" style="right:207.90px;top:565px;height:6.44px;line-height:6.44px;font-size:5.6px;-webkit-text-stroke:0.12px currentColor;color:#383838;transform:scaleX(1.3500);transform-origin:right">230.714</div>
<div class="t" style="right:142.10px;top:565px;height:6.44px;line-height:6.44px;font-size:5.6px;-webkit-text-stroke:0.12px currentColor;color:#383838;transform:scaleX(1.3500);transform-origin:right">25.000</div>
<div class="t" style="right:76.30px;top:565px;height:6.44px;line-height:6.44px;font-size:5.6px;-webkit-text-stroke:0.12px currentColor;color:#383838;transform:scaleX(1.3500);transform-origin:right">25.000</div>
<div class="t" style="right:10.50px;top:565px;height:6.44px;line-height:6.44px;font-size:5.6px;-webkit-text-stroke:0.12px currentColor;color:#383838;transform:scaleX(1.3500);transform-origin:right">29.286</div>
<div class="t" style="left:26.20px;top:575px;height:6.90px;line-height:6.90px;font-size:6.0px;-webkit-text-stroke:0.12px currentColor;color:#303030;transform:scaleX(1.3960);transform-origin:left">Vehicles</div>
<div class="t" style="left:220.50px;top:575px;height:6.44px;line-height:6.44px;font-size:5.6px;-webkit-text-stroke:0.12px currentColor;font-style:italic;color:#505050;width:0"><span style="position:absolute;left:0;transform:translateX(-50%) scaleX(1.2000);transform-origin:center">$</span></div>
<div class="t" style="right:602.70px;top:575px;height:6.44px;line-height:6.44px;font-size:5.6px;-webkit-text-stroke:0.12px currentColor;color:#383838;transform:scaleX(1.3500);transform-origin:right">300.000</div>
<div class="t" style="right:536.90px;top:575px;height:6.44px;line-height:6.44px;font-size:5.6px;-webkit-text-stroke:0.12px currentColor;color:#383838;transform:scaleX(1.3500);transform-origin:right">300.000</div>
<div class="t" style="right:471.10px;top:575px;height:6.44px;line-height:6.44px;font-size:5.6px;-webkit-text-stroke:0.12px currentColor;color:#383838;transform:scaleX(1.3500);transform-origin:right">315.000</div>
<div class="t" style="right:405.30px;top:575px;height:6.44px;line-height:6.44px;font-size:5.6px;-webkit-text-stroke:0.12px currentColor;color:#383838;transform:scaleX(1.3500);transform-origin:right">315.000</div>
<div class="t" style="right:339.50px;top:575px;height:6.44px;line-height:6.44px;font-size:5.6px;-webkit-text-stroke:0.12px currentColor;color:#383838;transform:scaleX(1.3500);transform-origin:right">315.000</div>
<div class="t" style="right:273.70px;top:575px;height:6.44px;line-height:6.44px;font-size:5.6px;-webkit-text-stroke:0.12px currentColor;color:#383838;transform:scaleX(1.3500);transform-origin:right">345.000</div>
<div class="t" style="right:207.90px;top:575px;height:6.44px;line-height:6.44px;font-size:5.6px;-webkit-text-stroke:0.12px currentColor;color:#383838;transform:scaleX(1.3500);transform-origin:right">345.000</div>
<div class="t" style="right:142.10px;top:575px;height:6.44px;line-height:6.44px;font-size:5.6px;-webkit-text-stroke:0.12px currentColor;color:#383838;transform:scaleX(1.3500);transform-origin:right">345.000</div>
<div class="t" style="right:76.30px;top:575px;height:6.44px;line-height:6.44px;font-size:5.6px;-webkit-text-stroke:0.12px currentColor;color:#383838;transform:scaleX(1.3500);transform-origin:right">345.000</div>
<div class="t" style="right:10.50px;top:575px;height:6.44px;line-height:6.44px;font-size:5.6px;-webkit-text-stroke:0.12px currentColor;color:#383838;transform:scaleX(1.3500);transform-origin:right">375.000</div>
<div style="position:absolute;left:8.10px;top:579.76px;width:915.40px;height:1.00px;background:#c8c8c8"></div>
<div class="t" style="left:20.50px;top:585px;height:6.79px;line-height:6.79px;font-size:5.9px;font-weight:bold;color:#1a1a1a;transform:scaleX(1.3030);transform-origin:left">Total Depreciation</div>
<div class="t" style="left:220.50px;top:585px;height:6.44px;line-height:6.44px;font-size:5.6px;-webkit-text-stroke:0.12px currentColor;font-style:italic;color:#505050;width:0"><span style="position:absolute;left:0;transform:translateX(-50%) scaleX(1.2000);transform-origin:center">$</span></div>
<div class="t" style="right:602.70px;top:585px;height:6.44px;line-height:6.44px;font-size:5.6px;font-weight:bold;color:#1a1a1a;transform:scaleX(1.3500);transform-origin:right">6.984.741</div>
<div class="t" style="right:536.90px;top:585px;height:6.44px;line-height:6.44px;font-size:5.6px;font-weight:bold;color:#1a1a1a;transform:scaleX(1.3500);transform-origin:right">7.284.810</div>
<div class="t" style="right:471.10px;top:585px;height:6.44px;line-height:6.44px;font-size:5.6px;font-weight:bold;color:#1a1a1a;transform:scaleX(1.3500);transform-origin:right">7.651.879</div>
<div class="t" style="right:405.30px;top:585px;height:6.44px;line-height:6.44px;font-size:5.6px;font-weight:bold;color:#1a1a1a;transform:scaleX(1.3500);transform-origin:right">8.021.200</div>
<div class="t" style="right:339.50px;top:585px;height:6.44px;line-height:6.44px;font-size:5.6px;font-weight:bold;color:#1a1a1a;transform:scaleX(1.3500);transform-origin:right">8.443.075</div>
<div class="t" style="right:273.70px;top:585px;height:6.44px;line-height:6.44px;font-size:5.6px;font-weight:bold;color:#1a1a1a;transform:scaleX(1.3500);transform-origin:right">8.912.013</div>
<div class="t" style="right:207.90px;top:585px;height:6.44px;line-height:6.44px;font-size:5.6px;font-weight:bold;color:#1a1a1a;transform:scaleX(1.3500);transform-origin:right">9.590.344</div>
<div class="t" style="right:142.10px;top:585px;height:6.44px;line-height:6.44px;font-size:5.6px;font-weight:bold;color:#1a1a1a;transform:scaleX(1.3500);transform-origin:right">8.649.229</div>
<div class="t" style="right:76.30px;top:585px;height:6.44px;line-height:6.44px;font-size:5.6px;font-weight:bold;color:#1a1a1a;transform:scaleX(1.3500);transform-origin:right">8.954.556</div>
<div class="t" style="right:10.50px;top:585px;height:6.44px;line-height:6.44px;font-size:5.6px;font-weight:bold;color:#1a1a1a;transform:scaleX(1.3500);transform-origin:right">9.455.551</div>
<div style="position:absolute;left:8.10px;top:600.30px;width:915.40px;height:9.70px;background:linear-gradient(#2a7a7e 0%,#1e8597 22%,#1e8597 78%,#22747e 100%)"></div>
<div class="t" style="left:20.50px;top:604px;height:6.79px;line-height:6.79px;font-size:5.9px;font-weight:bold;color:#e6f4f4;transform:scaleX(1.3200);transform-origin:left">Capital Gains/(Losses) on Medical Equipment</div>
<div class="t" style="left:26.20px;top:614px;height:6.90px;line-height:6.90px;font-size:6.0px;-webkit-text-stroke:0.12px currentColor;color:#303030;transform:scaleX(1.3960);transform-origin:left">Medical Equipment Disposals</div>
<div class="t" style="left:220.50px;top:615px;height:6.44px;line-height:6.44px;font-size:5.6px;-webkit-text-stroke:0.12px currentColor;font-style:italic;color:#505050;width:0"><span style="position:absolute;left:0;transform:translateX(-50%) scaleX(1.2000);transform-origin:center">$</span></div>
<div class="t" style="right:602.70px;top:614px;height:6.44px;line-height:6.44px;font-size:5.6px;-webkit-text-stroke:0.12px currentColor;color:#383838;transform:scaleX(1.3500);transform-origin:right">-</div>
<div class="t" style="right:536.90px;top:614px;height:6.44px;line-height:6.44px;font-size:5.6px;-webkit-text-stroke:0.12px currentColor;color:#383838;transform:scaleX(1.3500);transform-origin:right">-</div>
<div class="t" style="right:471.10px;top:614px;height:6.44px;line-height:6.44px;font-size:5.6px;-webkit-text-stroke:0.12px currentColor;color:#383838;transform:scaleX(1.3500);transform-origin:right">-</div>
<div class="t" style="right:405.30px;top:614px;height:6.44px;line-height:6.44px;font-size:5.6px;-webkit-text-stroke:0.12px currentColor;color:#383838;transform:scaleX(1.3500);transform-origin:right">-</div>
<div class="t" style="right:339.50px;top:614px;height:6.44px;line-height:6.44px;font-size:5.6px;-webkit-text-stroke:0.12px currentColor;color:#383838;transform:scaleX(1.3500);transform-origin:right">-</div>
<div class="t" style="right:273.70px;top:614px;height:6.44px;line-height:6.44px;font-size:5.6px;-webkit-text-stroke:0.12px currentColor;color:#383838;transform:scaleX(1.3500);transform-origin:right">-</div>
<div class="t" style="right:207.90px;top:614px;height:6.44px;line-height:6.44px;font-size:5.6px;-webkit-text-stroke:0.12px currentColor;color:#383838;transform:scaleX(1.3500);transform-origin:right">(577.254)</div>
<div class="t" style="right:142.10px;top:614px;height:6.44px;line-height:6.44px;font-size:5.6px;-webkit-text-stroke:0.12px currentColor;color:#383838;transform:scaleX(1.3500);transform-origin:right">(712.285)</div>
<div class="t" style="right:76.30px;top:614px;height:6.44px;line-height:6.44px;font-size:5.6px;-webkit-text-stroke:0.12px currentColor;color:#383838;transform:scaleX(1.3500);transform-origin:right">(861.716)</div>
<div class="t" style="right:10.50px;top:614px;height:6.44px;line-height:6.44px;font-size:5.6px;-webkit-text-stroke:0.12px currentColor;color:#383838;transform:scaleX(1.3500);transform-origin:right">(1.023.410)</div>
<div class="t" style="left:26.20px;top:624px;height:6.90px;line-height:6.90px;font-size:6.0px;-webkit-text-stroke:0.12px currentColor;color:#303030;transform:scaleX(1.3960);transform-origin:left">Medical Equipment Salvage Value</div>
<div class="t" style="left:220.50px;top:625px;height:6.44px;line-height:6.44px;font-size:5.6px;-webkit-text-stroke:0.12px currentColor;font-style:italic;color:#505050;width:0"><span style="position:absolute;left:0;transform:translateX(-50%) scaleX(1.2000);transform-origin:center">$</span></div>
<div class="t" style="right:602.70px;top:624px;height:6.44px;line-height:6.44px;font-size:5.6px;-webkit-text-stroke:0.12px currentColor;color:#383838;transform:scaleX(1.3500);transform-origin:right">-</div>
<div class="t" style="right:536.90px;top:624px;height:6.44px;line-height:6.44px;font-size:5.6px;-webkit-text-stroke:0.12px currentColor;color:#383838;transform:scaleX(1.3500);transform-origin:right">-</div>
<div class="t" style="right:471.10px;top:624px;height:6.44px;line-height:6.44px;font-size:5.6px;-webkit-text-stroke:0.12px currentColor;color:#383838;transform:scaleX(1.3500);transform-origin:right">-</div>
<div class="t" style="right:405.30px;top:624px;height:6.44px;line-height:6.44px;font-size:5.6px;-webkit-text-stroke:0.12px currentColor;color:#383838;transform:scaleX(1.3500);transform-origin:right">-</div>
<div class="t" style="right:339.50px;top:624px;height:6.44px;line-height:6.44px;font-size:5.6px;-webkit-text-stroke:0.12px currentColor;color:#383838;transform:scaleX(1.3500);transform-origin:right">-</div>
<div class="t" style="right:273.70px;top:624px;height:6.44px;line-height:6.44px;font-size:5.6px;-webkit-text-stroke:0.12px currentColor;color:#383838;transform:scaleX(1.3500);transform-origin:right">-</div>
<div class="t" style="right:207.90px;top:624px;height:6.44px;line-height:6.44px;font-size:5.6px;-webkit-text-stroke:0.12px currentColor;color:#383838;transform:scaleX(1.3500);transform-origin:right">384.836</div>
<div class="t" style="right:142.10px;top:624px;height:6.44px;line-height:6.44px;font-size:5.6px;-webkit-text-stroke:0.12px currentColor;color:#383838;transform:scaleX(1.3500);transform-origin:right">474.857</div>
<div class="t" style="right:76.30px;top:624px;height:6.44px;line-height:6.44px;font-size:5.6px;-webkit-text-stroke:0.12px currentColor;color:#383838;transform:scaleX(1.3500);transform-origin:right">574.477</div>
<div class="t" style="right:10.50px;top:624px;height:6.44px;line-height:6.44px;font-size:5.6px;-webkit-text-stroke:0.12px currentColor;color:#383838;transform:scaleX(1.3500);transform-origin:right">682.274</div>
<div style="position:absolute;left:8.10px;top:629.42px;width:915.40px;height:1.00px;background:#c8c8c8"></div>
<div class="t" style="left:20.50px;top:635px;height:6.79px;line-height:6.79px;font-size:5.9px;font-weight:bold;color:#1a1a1a;transform:scaleX(1.3030);transform-origin:left">Capital Gains/(Losses)</div>
<div class="t" style="left:220.50px;top:635px;height:6.44px;line-height:6.44px;font-size:5.6px;-webkit-text-stroke:0.12px currentColor;font-style:italic;color:#505050;width:0"><span style="position:absolute;left:0;transform:translateX(-50%) scaleX(1.2000);transform-origin:center">$</span></div>
<div class="t" style="right:602.70px;top:634px;height:6.44px;line-height:6.44px;font-size:5.6px;font-weight:bold;color:#1a1a1a;transform:scaleX(1.3500);transform-origin:right">-</div>
<div class="t" style="right:536.90px;top:634px;height:6.44px;line-height:6.44px;font-size:5.6px;font-weight:bold;color:#1a1a1a;transform:scaleX(1.3500);transform-origin:right">-</div>
<div class="t" style="right:471.10px;top:634px;height:6.44px;line-height:6.44px;font-size:5.6px;font-weight:bold;color:#1a1a1a;transform:scaleX(1.3500);transform-origin:right">-</div>
<div class="t" style="right:405.30px;top:634px;height:6.44px;line-height:6.44px;font-size:5.6px;font-weight:bold;color:#1a1a1a;transform:scaleX(1.3500);transform-origin:right">-</div>
<div class="t" style="right:339.50px;top:634px;height:6.44px;line-height:6.44px;font-size:5.6px;font-weight:bold;color:#1a1a1a;transform:scaleX(1.3500);transform-origin:right">-</div>
<div class="t" style="right:273.70px;top:634px;height:6.44px;line-height:6.44px;font-size:5.6px;font-weight:bold;color:#1a1a1a;transform:scaleX(1.3500);transform-origin:right">-</div>
<div class="t" style="right:207.90px;top:634px;height:6.44px;line-height:6.44px;font-size:5.6px;font-weight:bold;color:#1a1a1a;transform:scaleX(1.3500);transform-origin:right">192.418</div>
<div class="t" style="right:142.10px;top:634px;height:6.44px;line-height:6.44px;font-size:5.6px;font-weight:bold;color:#1a1a1a;transform:scaleX(1.3500);transform-origin:right">237.428</div>
<div class="t" style="right:76.30px;top:634px;height:6.44px;line-height:6.44px;font-size:5.6px;font-weight:bold;color:#1a1a1a;transform:scaleX(1.3500);transform-origin:right">287.239</div>
<div class="t" style="right:10.50px;top:634px;height:6.44px;line-height:6.44px;font-size:5.6px;font-weight:bold;color:#1a1a1a;transform:scaleX(1.3500);transform-origin:right">341.137</div>
</body></html>
